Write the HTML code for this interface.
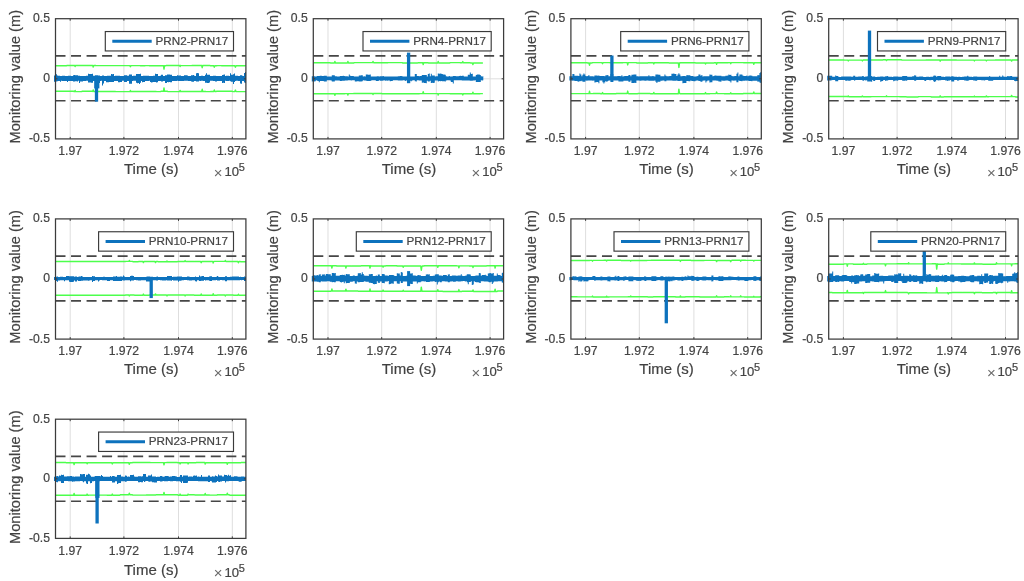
<!DOCTYPE html>
<html><head><meta charset="utf-8"><title>Monitoring value plots</title>
<style>html,body{margin:0;padding:0;background:#fff;overflow:hidden}svg{display:block}text{stroke:#505050;stroke-width:.22px}</style></head>
<body>
<svg width="1024" height="581" viewBox="0 0 1024 581" font-family='"Liberation Sans", sans-serif'>
<rect width="1024" height="581" fill="#fff"/>
<g transform="translate(55.5 18.7)">
<path d="M14.7 0V120.2M68.4 0V120.2M123 0V120.2M176.8 0V120.2M0 60.1H190.4" stroke="#dedede" stroke-width="1" fill="none"/>
<path d="M0 37.2H190.4" stroke="#464646" stroke-width="1.6" stroke-dasharray="10 5.53" fill="none"/>
<path d="M0 82H190.4" stroke="#464646" stroke-width="1.6" stroke-dasharray="10 5.53" fill="none"/>
<path d="M0 47.1L11.1 47.1L11.6 46.7L19.1 46.7L19.6 47.8L20.1 46.7L23.1 46.7L23.6 46.8L37.2 46.8L37.7 48.3L38.2 46.8L40.2 46.8L40.7 46.9L74.4 46.9L74.9 48L75.4 46.9L84.4 46.9L84.9 47L89.4 47L89.9 46.9L93.4 46.9L93.9 47L108 47L108.5 50.4L109 47L110.5 47L111 46.8L119.6 46.8L120.1 46.7L124.1 46.7L124.6 47.8L125.1 46.7L125.6 46.9L136.1 46.9L136.6 46.8L146.2 46.8L146.7 49L147.2 46.8L154.2 46.8L154.7 47L158.2 47L158.8 48.5L159.3 47L161.3 47L161.8 46.9L165.8 46.9L166.3 47.1L173.8 47.1L174.3 47L179.3 47L179.9 48.5L180.4 47L189.4 47L189.9 46.9L190.4 46.9" stroke="#4cff4c" stroke-width="1.45" fill="none" stroke-linejoin="round"/>
<path d="M0 72.5L18.1 72.5L18.6 72.9L19.1 72.9L19.6 71.8L20.1 72.9L26.1 72.9L26.6 72.5L36.7 72.5L37.2 72.8L37.7 71.3L38.2 72.8L59.8 72.8L60.3 72.9L74.4 72.9L74.9 71.8L75.4 72.9L75.9 72.9L76.4 72.7L90.9 72.7L91.4 72.8L100.5 72.8L101 72.9L105 72.9L105.5 72.6L108 72.6L108.5 69.2L109 72.6L112 72.6L112.5 72.9L124.1 72.9L124.6 71.7L125.1 72.9L125.6 72.7L138.2 72.7L138.7 72.8L146.2 72.8L146.7 70.6L147.2 72.8L150.2 72.8L150.7 72.9L154.7 72.9L155.2 72.8L158.2 72.8L158.8 71.3L159.3 72.8L160.8 72.8L161.3 72.5L176.8 72.5L177.3 72.9L179.3 72.9L179.9 71.4L180.4 72.9L190.4 72.9" stroke="#4cff4c" stroke-width="1.45" fill="none" stroke-linejoin="round"/>
<path d="M-1.5 56.8H-0.5V56.8H0.5V55.6H1.5V56.8H2.5V57.1H3.5V57.1H4.5V57.3H5.5V57.3H6.5V57.1H7.5V57.1H8.5V57.1H9.5V57.3H10.5V57.3H11.5V57.3H12.5V57H13.5V57H14.5V57H15.5V57.4H16.5V57.4H17.5V56.5H18.5V56.4H19.5V56.5H20.5V56.5H21.5V56.5H22.5V57.1H23.5V57.1H24.5V57.4H25.5V57.4H26.5V57.4H27.5V57.3H28.5V57.3H29.5V57.3H30.5V57.1H31.5V57.1H32.5V55H33.5V55.3H34.5V55.2H35.5V55.4H36.5V55.1H37.5V57.1H38.5V57H39.5V56.5H40.5V56.5H41.5V56.6H42.5V56.8H43.5V56.8H44.5V57.3H45.5V57.3H46.5V56.8H47.5V56.8H48.5V57.2H49.5V57.2H50.5V57.2H51.5V57.1H52.5V57.1H53.5V57.1H54.5V57.1H55.5V55.3H56.5V55.5H57.5V55.4H58.5V57.3H59.5V57H60.5V57.1H61.5V57H62.5V57H63.5V57H64.5V57.4H65.5V57.4H66.5V57.3H67.5V57.3H68.5V56.5H69.5V56.5H70.5V56.5H71.5V57.1H72.5V57.1H73.5V55.7H74.5V55.7H75.5V55.8H76.5V57.3H77.5V57.1H78.5V57.1H79.5V57.1H80.5V55.4H81.5V55.3H82.5V55.2H83.5V55.3H84.5V55.1H85.5V57.3H86.5V57.3H87.5V57H88.5V57H89.5V57.1H90.5V57.1H91.5V57.1H92.5V57.1H93.5V57.2H94.5V57.2H95.5V57.2H96.5V57.2H97.5V57.1H98.5V57.1H99.5V55.1H100.5V55.4H101.5V55.4H102.5V57.3H103.5V57.3H104.5V57H105.5V56.1H106.5V56.1H107.5V57.2H108.5V57.2H109.5V56.6H110.5V56.6H111.5V55.9H112.5V55.8H113.5V55.9H114.5V56H115.5V56.1H116.5V57.3H117.5V57.4H118.5V57.4H119.5V57.4H120.5V57.2H121.5V56.6H122.5V56.8H123.5V56.8H124.5V56.8H125.5V57.3H126.5V57.3H127.5V57.3H128.5V56.5H129.5V56.5H130.5V56.5H131.5V56.8H132.5V57.3H133.5V57.3H134.5V57.2H135.5V56.5H136.5V56.5H137.5V56.4H138.5V57H139.5V57.3H140.5V54.6H141.5V54.4H142.5V54.5H143.5V57.3H144.5V57.4H145.5V57.1H146.5V57.1H147.5V57.2H148.5V57.2H149.5V56H150.5V54.5H151.5V56H152.5V56.1H153.5V56H154.5V57.3H155.5V57.4H156.5V57.4H157.5V57H158.5V57H159.5V57H160.5V57.3H161.5V57.3H162.5V57.3H163.5V57.2H164.5V57.2H165.5V57.4H166.5V56.2H167.5V56H168.5V55.9H169.5V57.2H170.5V57.1H171.5V57H172.5V57H173.5V57.3H174.5V54.6H175.5V56.1H176.5V56.1H177.5V55.5H178.5V54.9H179.5V57H180.5V57.1H181.5V57.1H182.5V57.3H183.5V57.3H184.5V56.6H185.5V56.6H186.5V57.1H187.5V57.2H188.5V54.2H189.5V53.2H190.5V64.2H189.5V63.7H188.5V62.4H187.5V62.4H186.5V65H185.5V64.9H184.5V62.2H183.5V62.2H182.5V62H181.5V62H180.5V62.2H179.5V63.4H178.5V65.2H177.5V63H176.5V63H175.5V62.6H174.5V62H173.5V62.3H172.5V62.4H171.5V62.3H170.5V62H169.5V64.2H168.5V64H167.5V64.4H166.5V62.4H165.5V62.4H164.5V62.4H163.5V62.2H162.5V62.2H161.5V62.7H160.5V62.9H159.5V62.3H158.5V62.3H157.5V62H156.5V62H155.5V62H154.5V63.9H153.5V64.3H152.5V64.2H151.5V64.1H150.5V64.1H149.5V62.3H148.5V62.3H147.5V62H146.5V62H145.5V62.3H144.5V62.1H143.5V62.8H142.5V62.7H141.5V62.7H140.5V62.2H139.5V62.4H138.5V63H137.5V63H136.5V62.9H135.5V62.4H134.5V62.2H133.5V62.2H132.5V62H131.5V62.1H130.5V62.1H129.5V62.1H128.5V62.2H127.5V62.2H126.5V62.4H125.5V62.4H124.5V62.3H123.5V62.3H122.5V62H121.5V62.3H120.5V62.4H119.5V62.4H118.5V62.4H117.5V62.4H116.5V63.6H115.5V63.6H114.5V63.4H113.5V63.5H112.5V63.4H111.5V64.2H110.5V64.2H109.5V62.2H108.5V62.2H107.5V62.9H106.5V62.9H105.5V62.3H104.5V62.4H103.5V62.4H102.5V63.6H101.5V63.7H100.5V63.4H99.5V63.4H98.5V63.4H97.5V63.6H96.5V63.7H95.5V63.2H94.5V62H93.5V62.2H92.5V62.2H91.5V62.2H90.5V62.2H89.5V63.3H88.5V63.2H87.5V63.5H86.5V62.2H85.5V64.1H84.5V65.4H83.5V64.2H82.5V64.5H81.5V64H80.5V62.1H79.5V62.1H78.5V62.1H77.5V62.4H76.5V65H75.5V65.1H74.5V65H73.5V62.2H72.5V62.2H71.5V63.3H70.5V63.4H69.5V63.2H68.5V62.1H67.5V62.1H66.5V63.4H65.5V63.4H64.5V63.6H63.5V63.5H62.5V62.3H61.5V62.3H60.5V62.3H59.5V62.3H58.5V63.3H57.5V63.3H56.5V63.3H55.5V63.3H54.5V63.4H53.5V63.5H52.5V63.5H51.5V63.5H50.5V62.3H49.5V62.3H48.5V64.8H47.5V66.7H46.5V62H45.5V62.4H44.5V64.3H43.5V64.5H42.5V64.2H41.5V64.4H40.5V64.2H39.5V62.3H38.5V62.2H37.5V64.1H36.5V64H35.5V63.9H34.5V63.9H33.5V63.9H32.5V62.1H31.5V62.1H30.5V62.2H29.5V62.2H28.5V62.2H27.5V62.9H26.5V62.9H25.5V62.9H24.5V64.3H23.5V62.1H22.5V62.7H21.5V62.6H20.5V62.6H19.5V62.9H18.5V62.9H17.5V62.3H16.5V62.3H15.5V62.2H14.5V62.2H13.5V62.2H12.5V63.3H11.5V62.2H10.5V62.2H9.5V62.4H8.5V62.4H7.5V62.4H6.5V62.1H5.5V63.1H4.5V62.3H3.5V62.3H2.5V62.6H1.5V62.9H0.5V62.9H-0.5V63H-1.5Z" fill="#0d72bd"/>
<path d="M41 83V59.7" stroke="#0d72bd" stroke-width="3.3" fill="none"/>
<path d="M41.3 59.7V69.7" stroke="#0d72bd" stroke-width="5.2" fill="none"/>
<path d="M14.7 0v2M14.7 120.2v-2M68.4 0v2M68.4 120.2v-2M123 0v2M123 120.2v-2M176.8 0v2M176.8 120.2v-2M0 60.1h2M190.4 60.1h-2" stroke="#3c3c3c" stroke-width="1" fill="none"/>
<rect x="0" y="0" width="190.4" height="120.2" fill="none" stroke="#3c3c3c" stroke-width="1.25"/>
<rect x="49.8" y="12.85" width="128.2" height="19.4" fill="#fff" stroke="#3a3a3a" stroke-width="1.15"/>
<path d="M56.8 22.6h39.4" stroke="#0d72bd" stroke-width="3.1" fill="none"/>
<text x="100" y="26.2" font-size="11.7" fill="#404040">PRN2-PRN17</text>
<text x="14.7" y="136.3" font-size="12.2" text-anchor="middle" fill="#404040">1.97</text>
<text x="68.4" y="136.3" font-size="12.2" text-anchor="middle" fill="#404040">1.972</text>
<text x="123" y="136.3" font-size="12.2" text-anchor="middle" fill="#404040">1.974</text>
<text x="176.8" y="136.3" font-size="12.2" text-anchor="middle" fill="#404040">1.976</text>
<text x="-5.5" y="3.5" font-size="12.2" text-anchor="end" fill="#404040">0.5</text>
<text x="-5.5" y="63.6" font-size="12.2" text-anchor="end" fill="#404040">0</text>
<text x="-5.5" y="123.7" font-size="12.2" text-anchor="end" fill="#404040">-0.5</text>
<text x="95.7" y="155.6" font-size="15" text-anchor="middle" fill="#404040">Time (s)</text>
<text transform="translate(-35.4 124.8) rotate(-90)" font-size="14.67" fill="#404040">Monitoring value (m)</text>
<text x="158.3" y="159" font-size="15" fill="#6a6a6a" style="stroke:none">×</text>
<text x="168.9" y="157.6" font-size="13.1" fill="#404040">10</text>
<text x="183.2" y="152.5" font-size="11" fill="#404040">5</text>
</g>
<g transform="translate(313.3 18.7)">
<path d="M14.7 0V120.2M68.4 0V120.2M123 0V120.2M176.8 0V120.2M0 60.1H190.3" stroke="#dedede" stroke-width="1" fill="none"/>
<path d="M0 37.2H190.3" stroke="#464646" stroke-width="1.6" stroke-dasharray="10 5.53" fill="none"/>
<path d="M0 82H190.3" stroke="#464646" stroke-width="1.6" stroke-dasharray="10 5.53" fill="none"/>
<path d="M0 44L16.6 44L17.1 44.3L21.1 44.3L21.6 42.8L22.1 44.3L24.6 44.3L25.1 44.2L34.1 44.2L34.6 42.7L35.1 44.2L40.6 44.2L41.1 43.9L59.2 43.9L59.7 42.8L60.2 43.9L60.7 44L67.2 44L67.7 44.1L74.3 44.1L74.8 43.9L88.8 43.9L89.3 44.2L104.4 44.2L104.9 44.1L109.4 44.1L109.9 45.9L110.4 44.1L114.9 44.1L115.4 44.3L122.4 44.3L122.9 44.2L124.4 44.2L124.9 42.7L125.4 44.2L136.5 44.2L137 43.9L146.5 43.9L147 44L149 44L149.5 42.9L150 44L156.6 44L157.1 44.3L159.1 44.3L159.6 45.8L160.1 44.3L169.6 44.3" stroke="#4cff4c" stroke-width="1.45" fill="none" stroke-linejoin="round"/>
<path d="M0 75L11.5 75L12 75.1L21.1 75.1L21.6 76.6L22.1 75.1L31.1 75.1L31.6 74.9L34.1 74.9L34.6 76.4L35.1 74.9L40.1 74.9L40.6 74.7L59.2 74.7L59.7 75.8L60.2 74.7L68.2 74.7L68.7 75.1L87.3 75.1L87.8 75L105.9 75L106.4 74.9L109.4 74.9L109.9 73L110.4 74.9L124.4 74.9L124.9 76.4L125.4 74.9L136.5 74.9L137 75.1L149 75.1L149.5 76.2L150 75.1L155.6 75.1L156.1 75L159.1 75L159.6 73.5L160.1 75L166.6 75L167.1 74.9L169.6 74.9" stroke="#4cff4c" stroke-width="1.45" fill="none" stroke-linejoin="round"/>
<path d="M-1.5 57.6H-0.5V57.6H0.5V57.6H1.5V57.8H2.5V57.8H3.5V57.3H4.5V57.4H5.5V57.4H6.5V57H7.5V57.1H8.5V57.3H9.5V57.3H10.5V57.1H11.5V57.1H12.5V57.1H13.5V57.8H14.5V57.8H15.5V57.7H16.5V57.7H17.5V57.9H18.5V56.6H19.5V56.6H20.5V56.6H21.5V57.6H22.5V57.6H23.5V57.7H24.5V57.7H25.5V57.7H26.5V57.3H27.5V57.3H28.5V57.2H29.5V57.1H30.5V57.2H31.5V57.5H32.5V57.5H33.5V57.5H34.5V57.9H35.5V55.8H36.5V57H37.5V57.4H38.5V57.3H39.5V57.3H40.5V57.7H41.5V57.7H42.5V57.9H43.5V57.9H44.5V57.9H45.5V56.7H46.5V56.7H47.5V56.6H48.5V56.6H49.5V57.7H50.5V57.5H51.5V57.8H52.5V55.9H53.5V55.9H54.5V56.1H55.5V56.1H56.5V55.9H57.5V57.9H58.5V57.7H59.5V57.7H60.5V57.8H61.5V57.8H62.5V57.7H63.5V57.6H64.5V57.6H65.5V57.8H66.5V57.5H67.5V57.5H68.5V57.5H69.5V57.4H70.5V57.8H71.5V57.8H72.5V57.8H73.5V57.9H74.5V57.9H75.5V57.9H76.5V57.9H77.5V57.8H78.5V57.8H79.5V57.9H80.5V57.8H81.5V57.8H82.5V57.8H83.5V57.8H84.5V57.5H85.5V57.5H86.5V57.4H87.5V57.4H88.5V57.5H89.5V57.8H90.5V57.8H91.5V57.7H92.5V57.7H93.5V57.9H94.5V57.8H95.5V57.8H96.5V57.8H97.5V57.8H98.5V57.9H99.5V57.9H100.5V57.9H101.5V55.2H102.5V55.3H103.5V57.3H104.5V57.3H105.5V57.5H106.5V57.4H107.5V57.4H108.5V56.3H109.5V56.2H110.5V56.2H111.5V56.2H112.5V56.2H113.5V57.9H114.5V55.4H115.5V54.7H116.5V57.5H117.5V55.1H118.5V56.8H119.5V56.8H120.5V56.8H121.5V57.9H122.5V57.5H123.5V57.5H124.5V54.9H125.5V55.1H126.5V54.9H127.5V55.1H128.5V55.2H129.5V55.9H130.5V55.8H131.5V56.1H132.5V57.5H133.5V57.7H134.5V57.7H135.5V57.3H136.5V57.8H137.5V57.8H138.5V57.8H139.5V57.3H140.5V57.3H141.5V57.3H142.5V57.6H143.5V57.6H144.5V57.6H145.5V57.2H146.5V57.1H147.5V57.2H148.5V57.1H149.5V57.1H150.5V57.8H151.5V57.7H152.5V57.7H153.5V57.7H154.5V56H155.5V56.1H156.5V53.8H157.5V55.4H158.5V55.1H159.5V57.8H160.5V57.8H161.5V57.8H162.5V56.3H163.5V55.8H164.5V55.8H165.5V55.8H166.5V56.2H167.5V57.5H168.5V57.7H169.5V57.5H170V61.6H169.5V61.7H168.5V61.5H167.5V63.4H166.5V63.3H165.5V63.3H164.5V63.3H163.5V63.2H162.5V61.6H161.5V61.7H160.5V61.7H159.5V62.1H158.5V62.1H157.5V62.1H156.5V61.9H155.5V61.9H154.5V61.9H153.5V61.9H152.5V61.9H151.5V61.8H150.5V61.9H149.5V61.9H148.5V61.6H147.5V61.6H146.5V61.6H145.5V61.6H144.5V61.6H143.5V61.6H142.5V61.6H141.5V61.6H140.5V64.8H139.5V63.4H138.5V63.2H137.5V61.8H136.5V61.6H135.5V61.5H134.5V61.5H133.5V61.9H132.5V62.8H131.5V62.6H130.5V62.6H129.5V62.5H128.5V62.4H127.5V62.5H126.5V62.4H125.5V62.7H124.5V61.7H123.5V61.7H122.5V61.9H121.5V64H120.5V64.3H119.5V64H118.5V64.4H117.5V62H116.5V62.7H115.5V62.7H114.5V62H113.5V64.6H112.5V64.3H111.5V64.4H110.5V63.9H109.5V64.1H108.5V61.9H107.5V61.9H106.5V61.8H105.5V61.6H104.5V61.6H103.5V62.7H102.5V62.6H101.5V61.5H100.5V61.5H99.5V61.9H98.5V62.6H97.5V62H96.5V61.6H95.5V61.6H94.5V61.6H93.5V61.9H92.5V62.4H91.5V61.6H90.5V61.6H89.5V61.8H88.5V61.8H87.5V61.8H86.5V61.7H85.5V61.7H84.5V61.6H83.5V61.6H82.5V61.6H81.5V61.5H80.5V61.5H79.5V62.2H78.5V62.2H77.5V62.6H76.5V61.9H75.5V61.9H74.5V62H73.5V61.9H72.5V62H71.5V61.5H70.5V61.9H69.5V62H68.5V62H67.5V62H66.5V61.6H65.5V62.2H64.5V62.2H63.5V62.2H62.5V61.6H61.5V61.5H60.5V61.5H59.5V61.5H58.5V61.9H57.5V62.3H56.5V62.3H55.5V62.2H54.5V62.3H53.5V62.1H52.5V61.7H51.5V61.9H50.5V61.6H49.5V62.6H48.5V62.8H47.5V62.7H46.5V62.8H45.5V62.6H44.5V62.6H43.5V62.7H42.5V62.7H41.5V61.6H40.5V61.5H39.5V61.5H38.5V61.9H37.5V61.5H36.5V61.5H35.5V61.6H34.5V61.8H33.5V61.8H32.5V61.8H31.5V62H30.5V62H29.5V62H28.5V62.3H27.5V62.2H26.5V61.7H25.5V61.7H24.5V61.7H23.5V61.7H22.5V61.7H21.5V62.8H20.5V62.8H19.5V62.8H18.5V61.8H17.5V61.5H16.5V61.5H15.5V61.6H14.5V61.6H13.5V62.8H12.5V62.7H11.5V62.8H10.5V62.4H9.5V62.4H8.5V62.4H7.5V62.3H6.5V63.6H5.5V62.3H4.5V62H3.5V61.5H2.5V62.6H1.5V62.8H0.5V62.6H-0.5V62.7H-1.5Z" fill="#0d72bd"/>
<path d="M95.3 33.9V64.5" stroke="#0d72bd" stroke-width="3.3" fill="none"/>
<path d="M14.7 0v2M14.7 120.2v-2M68.4 0v2M68.4 120.2v-2M123 0v2M123 120.2v-2M176.8 0v2M176.8 120.2v-2M0 60.1h2M190.3 60.1h-2" stroke="#3c3c3c" stroke-width="1" fill="none"/>
<rect x="0" y="0" width="190.3" height="120.2" fill="none" stroke="#3c3c3c" stroke-width="1.25"/>
<rect x="49.7" y="12.85" width="128.2" height="19.4" fill="#fff" stroke="#3a3a3a" stroke-width="1.15"/>
<path d="M56.7 22.6h39.4" stroke="#0d72bd" stroke-width="3.1" fill="none"/>
<text x="99.9" y="26.2" font-size="11.7" fill="#404040">PRN4-PRN17</text>
<text x="14.7" y="136.3" font-size="12.2" text-anchor="middle" fill="#404040">1.97</text>
<text x="68.4" y="136.3" font-size="12.2" text-anchor="middle" fill="#404040">1.972</text>
<text x="123" y="136.3" font-size="12.2" text-anchor="middle" fill="#404040">1.974</text>
<text x="176.8" y="136.3" font-size="12.2" text-anchor="middle" fill="#404040">1.976</text>
<text x="-5.5" y="3.5" font-size="12.2" text-anchor="end" fill="#404040">0.5</text>
<text x="-5.5" y="63.6" font-size="12.2" text-anchor="end" fill="#404040">0</text>
<text x="-5.5" y="123.7" font-size="12.2" text-anchor="end" fill="#404040">-0.5</text>
<text x="95.7" y="155.6" font-size="15" text-anchor="middle" fill="#404040">Time (s)</text>
<text transform="translate(-35.4 124.8) rotate(-90)" font-size="14.67" fill="#404040">Monitoring value (m)</text>
<text x="158.3" y="159" font-size="15" fill="#6a6a6a" style="stroke:none">×</text>
<text x="168.9" y="157.6" font-size="13.1" fill="#404040">10</text>
<text x="183.2" y="152.5" font-size="11" fill="#404040">5</text>
</g>
<g transform="translate(570.9 18.7)">
<path d="M14.7 0V120.2M68.4 0V120.2M123 0V120.2M176.8 0V120.2M0 60.1H190.4" stroke="#dedede" stroke-width="1" fill="none"/>
<path d="M0 37.2H190.4" stroke="#464646" stroke-width="1.6" stroke-dasharray="10 5.53" fill="none"/>
<path d="M0 82H190.4" stroke="#464646" stroke-width="1.6" stroke-dasharray="10 5.53" fill="none"/>
<path d="M0 44L16.1 44L16.6 44.3L18.1 44.3L18.6 46.5L19.1 44.3L21.1 44.3L21.6 43.9L31.1 43.9L31.6 45L32.2 43.9L38.7 43.9L39.2 44.1L51.7 44.1L52.2 43.9L56.3 43.9L56.8 46.2L57.3 43.9L65.3 43.9L65.8 44.2L76.9 44.2L77.4 44L81.4 44L81.9 44.1L82.4 44.1L82.9 45.2L83.4 44.1L97.5 44.1L98 44.2L107.5 44.2L108 48.7L108.5 44.9L109 44L124.1 44L124.6 44.2L134.1 44.2L134.6 45.3L135.1 44.2L143.2 44.2L143.7 44L145.2 44L145.7 45.5L146.2 44L157.2 44L157.7 43.9L159.3 43.9L159.8 45L160.3 43.9L172.3 43.9L172.8 44L182.4 44L182.9 45.5L183.4 44L190.4 44" stroke="#4cff4c" stroke-width="1.45" fill="none" stroke-linejoin="round"/>
<path d="M0 74.9L18.1 74.9L18.6 72.6L19.1 74.9L22.1 74.9L22.6 74.7L29.1 74.7L29.6 75L31.1 75L31.6 73.9L32.2 75L45.2 75L45.7 74.7L56.3 74.7L56.8 72.4L57.3 74.7L57.8 75L66.8 75L67.3 74.8L78.9 74.8L79.4 75L82.4 75L82.9 73.8L83.4 75L107.5 75L108 70.5L108.5 74.1L109 75L113.5 75L114 75.1L127.6 75.1L128.1 75L134.1 75L134.6 73.9L135.1 75.1L138.7 75.1L139.2 74.9L145.2 74.9L145.7 73.4L146.2 74.9L153.2 74.9L153.7 75.1L159.3 75.1L159.8 74L160.3 75.1L172.3 75.1L172.8 74.7L182.4 74.7L182.9 73.2L183.4 74.7L188.4 74.7L188.9 74.8L190.4 74.8" stroke="#4cff4c" stroke-width="1.45" fill="none" stroke-linejoin="round"/>
<path d="M-1.5 57.5H-0.5V57.5H0.5V57.5H1.5V55.2H2.5V55.3H3.5V57.1H4.5V57.1H5.5V57H6.5V57H7.5V57.2H8.5V54.7H9.5V55.8H10.5V57.6H11.5V56H12.5V54.7H13.5V55.7H14.5V57.3H15.5V57.5H16.5V57.4H17.5V56.3H18.5V57.6H19.5V57.6H20.5V57.6H21.5V57.6H22.5V57.7H23.5V56.9H24.5V56.9H25.5V56.9H26.5V57H27.5V56.9H28.5V57.4H29.5V57.4H30.5V57.4H31.5V57.4H32.5V57.4H33.5V57.5H34.5V56.5H35.5V56.5H36.5V56.4H37.5V57.5H38.5V57.5H39.5V55.3H40.5V55.2H41.5V55.2H42.5V57.5H43.5V57.5H44.5V57.5H45.5V57.6H46.5V57.4H47.5V57.4H48.5V57.4H49.5V57.6H50.5V56.6H51.5V57.7H52.5V57.5H53.5V57.3H54.5V57.3H55.5V57.3H56.5V57.4H57.5V56.4H58.5V56.4H59.5V57.6H60.5V56.1H61.5V56.1H62.5V55.9H63.5V55.9H64.5V55.9H65.5V57.6H66.5V57.6H67.5V57.7H68.5V57.6H69.5V57.6H70.5V57.6H71.5V57.6H72.5V57.6H73.5V57.5H74.5V57.6H75.5V57.6H76.5V57.6H77.5V56.6H78.5V57.5H79.5V57.5H80.5V57.5H81.5V57.4H82.5V57.5H83.5V57.7H84.5V55.8H85.5V55.7H86.5V55.9H87.5V56.1H88.5V56.1H89.5V57.6H90.5V57.6H91.5V57.6H92.5V57.6H93.5V55.7H94.5V57.1H95.5V57.5H96.5V57.5H97.5V57.5H98.5V57.4H99.5V57.3H100.5V55H101.5V55H102.5V54.9H103.5V55.3H104.5V55.3H105.5V57.4H106.5V55.9H107.5V54.5H108.5V55.7H109.5V57.5H110.5V57.5H111.5V57.4H112.5V57.4H113.5V57.4H114.5V57.5H115.5V56.4H116.5V56.5H117.5V56.6H118.5V56.6H119.5V57.3H120.5V57.3H121.5V57.3H122.5V57.7H123.5V57.7H124.5V57.7H125.5V57.6H126.5V57.4H127.5V55.7H128.5V55.7H129.5V57H130.5V56.2H131.5V57.7H132.5V57.5H133.5V57.5H134.5V57.6H135.5V57.6H136.5V57.5H137.5V57.5H138.5V55.7H139.5V56H140.5V56H141.5V57.6H142.5V57.4H143.5V56.9H144.5V56.9H145.5V57H146.5V57H147.5V57H148.5V57.1H149.5V57.1H150.5V57.6H151.5V57.5H152.5V57.5H153.5V57.5H154.5V57.1H155.5V57.1H156.5V56.9H157.5V55.8H158.5V56.2H159.5V56.1H160.5V57.3H161.5V57.6H162.5V57.5H163.5V57.4H164.5V57.4H165.5V55.1H166.5V53.9H167.5V57.5H168.5V55.8H169.5V55.7H170.5V55.8H171.5V56.9H172.5V57.2H173.5V57.2H174.5V57.2H175.5V56.9H176.5V57.6H177.5V57.1H178.5V56.9H179.5V56.9H180.5V57.1H181.5V57.6H182.5V57.6H183.5V57.5H184.5V57.5H185.5V57.5H186.5V56.4H187.5V56.5H188.5V54.2H189.5V53.2H190.5V64.2H189.5V63.7H188.5V62.7H187.5V63H186.5V62H185.5V62H184.5V62H183.5V62H182.5V62H181.5V62.5H180.5V62.4H179.5V62.4H178.5V62.4H177.5V61.9H176.5V62.1H175.5V61.8H174.5V62H173.5V62H172.5V62H171.5V62.5H170.5V62.2H169.5V62.2H168.5V61.8H167.5V63.6H166.5V63.5H165.5V61.9H164.5V61.9H163.5V62H162.5V61.9H161.5V61.8H160.5V63.9H159.5V62.5H158.5V62.3H157.5V61.8H156.5V61.9H155.5V61.9H154.5V62H153.5V62H152.5V62H151.5V61.9H150.5V63H149.5V62.9H148.5V62.9H147.5V62H146.5V62H145.5V61.8H144.5V61.8H143.5V61.8H142.5V61.9H141.5V63.5H140.5V63.5H139.5V63.7H138.5V61.8H137.5V61.8H136.5V62.5H135.5V63.9H134.5V61.9H133.5V61.9H132.5V62H131.5V63H130.5V63H129.5V62.4H128.5V62.2H127.5V61.8H126.5V61.8H125.5V62H124.5V62.5H123.5V62.5H122.5V62.2H121.5V62.2H120.5V61.8H119.5V62.5H118.5V62.5H117.5V62.4H116.5V62.4H115.5V64.2H114.5V64.3H113.5V64.4H112.5V64.5H111.5V62H110.5V62H109.5V62.4H108.5V62.3H107.5V62.4H106.5V61.9H105.5V62H104.5V62H103.5V62H102.5V62H101.5V61.7H100.5V61.7H99.5V61.9H98.5V61.8H97.5V61.8H96.5V61.8H95.5V62.5H94.5V62.5H93.5V61.8H92.5V61.8H91.5V62H90.5V62H89.5V63H88.5V63H87.5V63H86.5V64.2H85.5V63.1H84.5V61.9H83.5V62H82.5V62.1H81.5V62H80.5V62H79.5V62H78.5V62.1H77.5V61.8H76.5V61.8H75.5V62.1H74.5V62H73.5V61.9H72.5V61.9H71.5V61.9H70.5V62H69.5V62H68.5V61.9H67.5V61.9H66.5V61.9H65.5V64.3H64.5V64.1H63.5V64.3H62.5V64.2H61.5V64.2H60.5V61.9H59.5V63H58.5V63H57.5V62H56.5V62H55.5V62H54.5V62H53.5V62H52.5V62.9H51.5V62.9H50.5V62.9H49.5V62.8H48.5V62.8H47.5V61.9H46.5V61.8H45.5V61.8H44.5V61.8H43.5V61.8H42.5V63.4H41.5V63.4H40.5V63.3H39.5V61.9H38.5V61.7H37.5V62.2H36.5V63.2H35.5V62.4H34.5V63.6H33.5V64.9H32.5V63.5H31.5V61.8H30.5V61.7H29.5V61.7H28.5V64.6H27.5V63.3H26.5V63.4H25.5V63.6H24.5V63.8H23.5V61.8H22.5V62H21.5V61.7H20.5V61.7H19.5V61.7H18.5V61.7H17.5V61.7H16.5V62.1H15.5V61.9H14.5V63H13.5V63H12.5V63H11.5V62H10.5V62.5H9.5V62.4H8.5V63H7.5V62.8H6.5V62.2H5.5V62.4H4.5V62.4H3.5V61.9H2.5V62H1.5V61.8H0.5V61.8H-0.5V61.8H-1.5Z" fill="#0d72bd"/>
<path d="M41 36.8V59.7" stroke="#0d72bd" stroke-width="3.3" fill="none"/>
<path d="M14.7 0v2M14.7 120.2v-2M68.4 0v2M68.4 120.2v-2M123 0v2M123 120.2v-2M176.8 0v2M176.8 120.2v-2M0 60.1h2M190.4 60.1h-2" stroke="#3c3c3c" stroke-width="1" fill="none"/>
<rect x="0" y="0" width="190.4" height="120.2" fill="none" stroke="#3c3c3c" stroke-width="1.25"/>
<rect x="49.8" y="12.85" width="128.2" height="19.4" fill="#fff" stroke="#3a3a3a" stroke-width="1.15"/>
<path d="M56.8 22.6h39.4" stroke="#0d72bd" stroke-width="3.1" fill="none"/>
<text x="100" y="26.2" font-size="11.7" fill="#404040">PRN6-PRN17</text>
<text x="14.7" y="136.3" font-size="12.2" text-anchor="middle" fill="#404040">1.97</text>
<text x="68.4" y="136.3" font-size="12.2" text-anchor="middle" fill="#404040">1.972</text>
<text x="123" y="136.3" font-size="12.2" text-anchor="middle" fill="#404040">1.974</text>
<text x="176.8" y="136.3" font-size="12.2" text-anchor="middle" fill="#404040">1.976</text>
<text x="-5.5" y="3.5" font-size="12.2" text-anchor="end" fill="#404040">0.5</text>
<text x="-5.5" y="63.6" font-size="12.2" text-anchor="end" fill="#404040">0</text>
<text x="-5.5" y="123.7" font-size="12.2" text-anchor="end" fill="#404040">-0.5</text>
<text x="95.7" y="155.6" font-size="15" text-anchor="middle" fill="#404040">Time (s)</text>
<text transform="translate(-35.4 124.8) rotate(-90)" font-size="14.67" fill="#404040">Monitoring value (m)</text>
<text x="158.3" y="159" font-size="15" fill="#6a6a6a" style="stroke:none">×</text>
<text x="168.9" y="157.6" font-size="13.1" fill="#404040">10</text>
<text x="183.2" y="152.5" font-size="11" fill="#404040">5</text>
</g>
<g transform="translate(828.7 18.7)">
<path d="M14.7 0V120.2M68.4 0V120.2M123 0V120.2M176.8 0V120.2M0 60.1H189.4" stroke="#dedede" stroke-width="1" fill="none"/>
<path d="M0 37.2H189.4" stroke="#464646" stroke-width="1.6" stroke-dasharray="10 5.53" fill="none"/>
<path d="M0 82H189.4" stroke="#464646" stroke-width="1.6" stroke-dasharray="10 5.53" fill="none"/>
<path d="M0 41.2L15.1 41.2L15.6 41.4L19.1 41.4L19.6 42.2L20.1 41.4L33.2 41.4L33.7 42.2L34.2 41.4L34.7 41.3L53.8 41.3L54.3 41.1L57.3 41.1L57.8 41.9L58.3 41.1L58.8 41.1L59.3 41L72.8 41L73.3 41.4L97 41.4L97.5 41.2L109.5 41.2L110 41.3L111 41.3L111.5 42.5L112 41.3L127.6 41.3L128.1 41.4L145.2 41.4L145.7 42.2L146.2 41.4L157.2 41.4L157.7 42.2L158.3 41.4L166.3 41.4L166.8 41.3L182.4 41.3L182.9 42.4L183.4 41.3L189.4 41.3" stroke="#4cff4c" stroke-width="1.45" fill="none" stroke-linejoin="round"/>
<path d="M0 77.8L18.6 77.8L19.1 78L19.6 77.2L20.1 78L33.2 78L33.7 77.3L34.2 78L42.2 78L42.7 77.9L57.3 77.9L57.8 77.1L58.3 77.9L70.8 77.9L71.3 78.1L77.4 78.1L77.9 78.2L89.4 78.2L89.9 77.9L102 77.9L102.5 78.2L111 78.2L111.5 77.1L112 78.2L115 78.2L115.5 78.1L119.1 78.1L119.6 78L130.6 78L131.1 78.1L145.2 78.1L145.7 77.4L146.2 78.1L147.2 78.1L147.7 78L157.2 78L157.7 77.2L158.3 78L159.8 78L160.3 77.9L182.4 77.9L182.9 76.7L183.4 77.9L186.4 77.9L186.9 78.2L189.4 78.2" stroke="#4cff4c" stroke-width="1.45" fill="none" stroke-linejoin="round"/>
<path d="M-1.5 57H-0.5V57.1H0.5V57.1H1.5V57.1H2.5V57H3.5V58.1H4.5V58.1H5.5V58.1H6.5V56.7H7.5V57.4H8.5V57.3H9.5V58.1H10.5V58.2H11.5V58.2H12.5V57.7H13.5V57.7H14.5V57.7H15.5V57.9H16.5V57.9H17.5V57.9H18.5V57.8H19.5V57.9H20.5V57.9H21.5V57.7H22.5V58H23.5V58H24.5V57.1H25.5V57.1H26.5V58.1H27.5V58.1H28.5V58.1H29.5V57.9H30.5V57.8H31.5V57.8H32.5V57.8H33.5V57.4H34.5V57.5H35.5V58.2H36.5V57.9H37.5V57.7H38.5V57.5H39.5V57.5H40.5V57.4H41.5V57.5H42.5V57.4H43.5V58H44.5V57.7H45.5V57.9H46.5V58.2H47.5V58.2H48.5V58H49.5V58H50.5V58H51.5V57.8H52.5V57.8H53.5V57.7H54.5V58.1H55.5V58.1H56.5V57.5H57.5V57.5H58.5V57.3H59.5V58H60.5V58H61.5V58H62.5V58H63.5V58.2H64.5V57.9H65.5V57.7H66.5V57.7H67.5V57.7H68.5V57.7H69.5V58H70.5V58H71.5V58H72.5V58H73.5V57.3H74.5V57.3H75.5V57.3H76.5V57.4H77.5V57.3H78.5V58H79.5V58H80.5V58H81.5V58H82.5V58H83.5V57.5H84.5V57.5H85.5V56.5H86.5V56.9H87.5V58H88.5V58H89.5V58H90.5V57.9H91.5V57.9H92.5V57.9H93.5V57.8H94.5V58.2H95.5V58.2H96.5V58.2H97.5V58H98.5V58.1H99.5V58H100.5V58.2H101.5V58H102.5V58H103.5V58H104.5V57.1H105.5V56.9H106.5V57H107.5V58H108.5V57.3H109.5V57.3H110.5V57.3H111.5V57.3H112.5V58H113.5V58H114.5V58.1H115.5V58.2H116.5V57.8H117.5V57.9H118.5V57.8H119.5V57.8H120.5V57.8H121.5V58.1H122.5V57.6H123.5V57.6H124.5V57.7H125.5V58.1H126.5V58H127.5V58.1H128.5V58.2H129.5V58H130.5V58H131.5V58.2H132.5V58.2H133.5V58.1H134.5V58.1H135.5V57.7H136.5V57.8H137.5V57.8H138.5V57.1H139.5V57.9H140.5V58.1H141.5V58.1H142.5V58.1H143.5V58.2H144.5V57.9H145.5V57.9H146.5V57.9H147.5V57.8H148.5V58.1H149.5V58H150.5V58H151.5V58H152.5V58.1H153.5V58.1H154.5V58.1H155.5V58H156.5V58H157.5V58.1H158.5V58.1H159.5V58.1H160.5V57.4H161.5V58.1H162.5V58.1H163.5V58H164.5V58H165.5V58H166.5V58H167.5V58.1H168.5V58H169.5V58H170.5V57H171.5V58H172.5V58H173.5V56.7H174.5V57.7H175.5V58H176.5V58H177.5V58H178.5V57.3H179.5V57.5H180.5V57.6H181.5V57.3H182.5V57.3H183.5V58.1H184.5V58H185.5V58H186.5V58H187.5V58H188.5V58H189.5V62.3H188.5V62.3H187.5V62.5H186.5V62.4H185.5V61.3H184.5V61.2H183.5V61.3H182.5V61.3H181.5V61.3H180.5V61.3H179.5V61.4H178.5V61.4H177.5V61.4H176.5V61.3H175.5V61.3H174.5V61.3H173.5V61.3H172.5V61.4H171.5V61.4H170.5V61.4H169.5V61.3H168.5V61.2H167.5V61.3H166.5V61.3H165.5V61.3H164.5V62.1H163.5V62.1H162.5V62.1H161.5V62.1H160.5V62.1H159.5V61.4H158.5V61.4H157.5V61.4H156.5V61.7H155.5V61.6H154.5V61.6H153.5V61.6H152.5V61.4H151.5V61.4H150.5V61.4H149.5V61.3H148.5V62H147.5V62H146.5V61.9H145.5V61.9H144.5V61.2H143.5V61.4H142.5V61.4H141.5V61.4H140.5V61.9H139.5V62H138.5V62H137.5V61.9H136.5V61.9H135.5V61.4H134.5V61.4H133.5V61.3H132.5V61.4H131.5V61.3H130.5V61.9H129.5V62.1H128.5V61.4H127.5V61.3H126.5V61.4H125.5V62.8H124.5V62.9H123.5V62.9H122.5V61.4H121.5V61.7H120.5V61.7H119.5V62.2H118.5V61.7H117.5V61.7H116.5V61.4H115.5V61.3H114.5V61.3H113.5V61.3H112.5V61.6H111.5V61.6H110.5V61.7H109.5V61.6H108.5V61.4H107.5V62.5H106.5V63.2H105.5V62.5H104.5V61.2H103.5V61.2H102.5V61.6H101.5V61.6H100.5V61.4H99.5V61.2H98.5V61.3H97.5V62.2H96.5V62.1H95.5V61.4H94.5V61.4H93.5V61.4H92.5V61.4H91.5V61.4H90.5V61.4H89.5V61.4H88.5V61.4H87.5V62H86.5V62H85.5V61.3H84.5V61.3H83.5V61.4H82.5V61.4H81.5V61.4H80.5V61.4H79.5V61.4H78.5V62H77.5V61.9H76.5V62.1H75.5V62H74.5V62H73.5V61.3H72.5V61.3H71.5V61.4H70.5V61.4H69.5V62.1H68.5V61.9H67.5V61.9H66.5V62H65.5V62.6H64.5V61.4H63.5V61.4H62.5V61.4H61.5V61.4H60.5V61.4H59.5V61.7H58.5V61.7H57.5V62.4H56.5V61.4H55.5V61.4H54.5V62.4H53.5V62.5H52.5V63H51.5V61.3H50.5V61.3H49.5V61.3H48.5V61.3H47.5V61.3H46.5V62.4H45.5V62.4H44.5V61.4H43.5V63H42.5V62.8H41.5V62.7H40.5V62.9H39.5V62.9H38.5V61.6H37.5V61.7H36.5V61.4H35.5V62H34.5V61.9H33.5V61.3H32.5V61.3H31.5V61.3H30.5V61.2H29.5V61.4H28.5V61.4H27.5V61.4H26.5V62.1H25.5V61.3H24.5V61.3H23.5V61.2H22.5V61.9H21.5V62.1H20.5V62H19.5V61.9H18.5V62.1H17.5V62.1H16.5V61.4H15.5V61.3H14.5V61.3H13.5V61.3H12.5V61.3H11.5V61.3H10.5V61.4H9.5V62.5H8.5V62.6H7.5V62.6H6.5V61.3H5.5V61.3H4.5V61.3H3.5V61.6H2.5V61.7H1.5V61.7H0.5V61.7H-0.5V61.7H-1.5Z" fill="#0d72bd"/>
<path d="M40.8 11.9V59.7" stroke="#0d72bd" stroke-width="3.3" fill="none"/>
<path d="M14.7 0v2M14.7 120.2v-2M68.4 0v2M68.4 120.2v-2M123 0v2M123 120.2v-2M176.8 0v2M176.8 120.2v-2M0 60.1h2M189.4 60.1h-2" stroke="#3c3c3c" stroke-width="1" fill="none"/>
<rect x="0" y="0" width="189.4" height="120.2" fill="none" stroke="#3c3c3c" stroke-width="1.25"/>
<rect x="48.8" y="12.85" width="128.2" height="19.4" fill="#fff" stroke="#3a3a3a" stroke-width="1.15"/>
<path d="M55.8 22.6h39.4" stroke="#0d72bd" stroke-width="3.1" fill="none"/>
<text x="99" y="26.2" font-size="11.7" fill="#404040">PRN9-PRN17</text>
<text x="14.7" y="136.3" font-size="12.2" text-anchor="middle" fill="#404040">1.97</text>
<text x="68.4" y="136.3" font-size="12.2" text-anchor="middle" fill="#404040">1.972</text>
<text x="123" y="136.3" font-size="12.2" text-anchor="middle" fill="#404040">1.974</text>
<text x="176.8" y="136.3" font-size="12.2" text-anchor="middle" fill="#404040">1.976</text>
<text x="-5.5" y="3.5" font-size="12.2" text-anchor="end" fill="#404040">0.5</text>
<text x="-5.5" y="63.6" font-size="12.2" text-anchor="end" fill="#404040">0</text>
<text x="-5.5" y="123.7" font-size="12.2" text-anchor="end" fill="#404040">-0.5</text>
<text x="95.2" y="155.6" font-size="15" text-anchor="middle" fill="#404040">Time (s)</text>
<text transform="translate(-35.4 124.8) rotate(-90)" font-size="14.67" fill="#404040">Monitoring value (m)</text>
<text x="158.3" y="159" font-size="15" fill="#6a6a6a" style="stroke:none">×</text>
<text x="168.9" y="157.6" font-size="13.1" fill="#404040">10</text>
<text x="183.2" y="152.5" font-size="11" fill="#404040">5</text>
</g>
<g transform="translate(55.5 218.9)">
<path d="M14.7 0V120.2M68.4 0V120.2M123 0V120.2M176.8 0V120.2M0 60.1H190.4" stroke="#dedede" stroke-width="1" fill="none"/>
<path d="M0 37.2H190.4" stroke="#464646" stroke-width="1.6" stroke-dasharray="10 5.53" fill="none"/>
<path d="M0 82H190.4" stroke="#464646" stroke-width="1.6" stroke-dasharray="10 5.53" fill="none"/>
<path d="M0 42.7L69.8 42.7L70.3 42.5L73.3 42.5L73.8 41.6L74.4 42.5L76.9 42.5L77.4 42.8L82.9 42.8L83.4 42.6L87.4 42.6L87.9 43.7L88.4 42.6L99.5 42.6L100 43.7L100.5 42.6L102.5 42.6L103 42.9L111 42.9L111.5 42.1L112 42.9L121.6 42.9L122.1 42.6L129.1 42.6L129.6 41.7L130.1 42.6L138.2 42.6L138.7 42.7L145.2 42.7L145.7 43.8L146.2 42.7L155.7 42.7L156.2 42.5L157.2 42.5L157.7 44L158.2 42.5L169.3 42.5L169.8 41.6L170.3 42.5L170.8 42.7L182.4 42.7L182.9 43.9L183.4 42.7L184.9 42.7L185.4 42.9L190.4 42.9" stroke="#4cff4c" stroke-width="1.45" fill="none" stroke-linejoin="round"/>
<path d="M0 76.3L69.8 76.3L70.3 76.1L73.3 76.1L73.8 77L74.4 76.1L78.4 76.1L78.9 76.3L87.4 76.3L87.9 75.2L88.4 76.3L93.4 76.3L93.9 76.2L99.5 76.2L100 75L100.5 76.2L111 76.2L111.5 77L112 76.2L121.6 76.2L122.1 76.1L129.1 76.1L129.6 77L130.1 76.1L138.2 76.1L138.7 76.3L145.2 76.3L145.7 75.1L146.2 76.3L146.7 76.4L157.2 76.4L157.7 74.9L158.2 76.4L161.3 76.4L161.8 76.2L169.3 76.2L169.8 77.1L170.3 76.2L177.8 76.2L178.3 76.4L182.4 76.4L182.9 75.3L183.4 76.4L185.4 76.4L185.9 76.3L190.4 76.3" stroke="#4cff4c" stroke-width="1.45" fill="none" stroke-linejoin="round"/>
<path d="M-1.5 58.1H-0.5V58.1H0.5V57.9H1.5V57.7H2.5V58.1H3.5V58.1H4.5V57.9H5.5V57.9H6.5V57.9H7.5V58.1H8.5V58.1H9.5V58H10.5V57H11.5V57H12.5V57H13.5V57.3H14.5V57.3H15.5V57.4H16.5V57.4H17.5V57.4H18.5V57.9H19.5V57.7H20.5V57.7H21.5V58H22.5V57.8H23.5V57.6H24.5V57.6H25.5V57.1H26.5V57.7H27.5V58H28.5V58H29.5V58H30.5V58H31.5V58H32.5V58.1H33.5V58.2H34.5V58.2H35.5V58.2H36.5V57.2H37.5V57.3H38.5V57.4H39.5V58.1H40.5V58.1H41.5V58.1H42.5V58.2H43.5V58.1H44.5V58.1H45.5V58.1H46.5V58.2H47.5V57.9H48.5V57.9H49.5V58.1H50.5V58.1H51.5V58H52.5V58H53.5V58H54.5V58H55.5V58H56.5V58H57.5V57.7H58.5V57.7H59.5V57.7H60.5V57.1H61.5V57.9H62.5V57.8H63.5V57.8H64.5V57.6H65.5V57.7H66.5V57.8H67.5V56.6H68.5V57.7H69.5V58H70.5V58H71.5V58H72.5V58.1H73.5V58.1H74.5V57H75.5V56.9H76.5V56.9H77.5V57H78.5V58.2H79.5V58.2H80.5V58.1H81.5V58.1H82.5V58.2H83.5V58.1H84.5V58.1H85.5V58.1H86.5V58.1H87.5V58.1H88.5V58.1H89.5V58.1H90.5V57.8H91.5V57.7H92.5V57.7H93.5V57.7H94.5V57.8H95.5V57.9H96.5V57.9H97.5V58.1H98.5V58.1H99.5V58.1H100.5V57.9H101.5V57.6H102.5V58.1H103.5V58.1H104.5V58.1H105.5V58.1H106.5V58.1H107.5V58.1H108.5V58.1H109.5V58.1H110.5V58.1H111.5V57.1H112.5V57H113.5V57H114.5V57H115.5V57H116.5V58.1H117.5V57.9H118.5V57.9H119.5V57.9H120.5V57.8H121.5V57.6H122.5V57.7H123.5V57.7H124.5V57.7H125.5V57.6H126.5V58H127.5V58H128.5V58.1H129.5V58.1H130.5V58.1H131.5V57.6H132.5V57.7H133.5V57.8H134.5V58.1H135.5V58.1H136.5V58.1H137.5V58.1H138.5V58.1H139.5V57.5H140.5V58.2H141.5V58.2H142.5V58.2H143.5V56.6H144.5V57.5H145.5V57.3H146.5V57.2H147.5V57.2H148.5V58H149.5V58.1H150.5V58.1H151.5V58.1H152.5V58.1H153.5V57.5H154.5V57.3H155.5V57.3H156.5V58H157.5V58.1H158.5V58.1H159.5V58.1H160.5V57.9H161.5V57H162.5V57.9H163.5V58.1H164.5V58.1H165.5V58.1H166.5V58H167.5V58H168.5V58H169.5V57.4H170.5V57.4H171.5V58.1H172.5V58H173.5V58H174.5V57.8H175.5V57.8H176.5V57.6H177.5V57.6H178.5V57.7H179.5V57.7H180.5V57.7H181.5V57.7H182.5V57.6H183.5V58H184.5V57.9H185.5V58.1H186.5V58H187.5V58H188.5V57.6H189.5V57.8H190.5V62H189.5V62H188.5V61.2H187.5V61.2H186.5V61.3H185.5V61.2H184.5V61.3H183.5V61.3H182.5V61.3H181.5V61.4H180.5V61.4H179.5V61.4H178.5V61.3H177.5V61.3H176.5V61.3H175.5V61.3H174.5V61.3H173.5V61.3H172.5V61.4H171.5V62.4H170.5V62.4H169.5V61.4H168.5V61.4H167.5V61.4H166.5V61.2H165.5V61.2H164.5V61.6H163.5V61.5H162.5V61.5H161.5V61.2H160.5V61.3H159.5V61.3H158.5V61.3H157.5V61.3H156.5V62H155.5V62H154.5V61.9H153.5V61.4H152.5V61.4H151.5V61.4H150.5V61.5H149.5V61.2H148.5V61.9H147.5V61.9H146.5V61.9H145.5V62.1H144.5V62.1H143.5V61.3H142.5V61.3H141.5V62.5H140.5V62.4H139.5V61.3H138.5V61.4H137.5V61.4H136.5V61.5H135.5V61.5H134.5V61.5H133.5V61.4H132.5V61.4H131.5V61.2H130.5V61.2H129.5V61.2H128.5V61.3H127.5V61.3H126.5V61.6H125.5V61.8H124.5V61.8H123.5V62.9H122.5V61.6H121.5V61.7H120.5V61.6H119.5V61.6H118.5V61.6H117.5V61.2H116.5V61.8H115.5V61.6H114.5V61.6H113.5V61.6H112.5V61.7H111.5V61.3H110.5V61.7H109.5V61.7H108.5V61.7H107.5V61.7H106.5V61.4H105.5V61.4H104.5V61.2H103.5V61.2H102.5V61.6H101.5V61.6H100.5V61.3H99.5V61.3H98.5V61.3H97.5V61.3H96.5V61.3H95.5V62.6H94.5V62.6H93.5V62.5H92.5V62.5H91.5V62.5H90.5V61.4H89.5V61.4H88.5V61.4H87.5V61.4H86.5V61.4H85.5V61.7H84.5V61.7H83.5V61.7H82.5V61.3H81.5V61.3H80.5V61.2H79.5V61.2H78.5V61.6H77.5V61.6H76.5V61.6H75.5V62.3H74.5V61.4H73.5V61.4H72.5V61.3H71.5V61.3H70.5V61.3H69.5V61.5H68.5V61.5H67.5V61.4H66.5V62.1H65.5V62H64.5V62.1H63.5V62H62.5V62H61.5V62H60.5V62.1H59.5V62.1H58.5V62.1H57.5V61.3H56.5V61.3H55.5V61.3H54.5V62.1H53.5V62H52.5V62H51.5V61.3H50.5V61.3H49.5V61.4H48.5V61.4H47.5V61.3H46.5V61.2H45.5V61.2H44.5V61.5H43.5V62.6H42.5V61.3H41.5V61.3H40.5V61.3H39.5V62H38.5V62.2H37.5V63.2H36.5V61.3H35.5V61.3H34.5V61.6H33.5V61.8H32.5V61.6H31.5V61.6H30.5V61.5H29.5V61.5H28.5V61.5H27.5V61.9H26.5V61.9H25.5V62H24.5V62H23.5V62H22.5V61.4H21.5V62.7H20.5V62.5H19.5V61.5H18.5V62.9H17.5V63H16.5V63.1H15.5V63.1H14.5V62.9H13.5V61.4H12.5V61.4H11.5V61.4H10.5V61.3H9.5V62.4H8.5V61.4H7.5V61.4H6.5V61.4H5.5V61.4H4.5V61.5H3.5V61.5H2.5V62.8H1.5V62.2H0.5V61.2H-0.5V61.2H-1.5Z" fill="#0d72bd"/>
<path d="M95.7 79.2V59.7" stroke="#0d72bd" stroke-width="3.3" fill="none"/>
<path d="M14.7 0v2M14.7 120.2v-2M68.4 0v2M68.4 120.2v-2M123 0v2M123 120.2v-2M176.8 0v2M176.8 120.2v-2M0 60.1h2M190.4 60.1h-2" stroke="#3c3c3c" stroke-width="1" fill="none"/>
<rect x="0" y="0" width="190.4" height="120.2" fill="none" stroke="#3c3c3c" stroke-width="1.25"/>
<rect x="43.1" y="12.85" width="134.9" height="19.4" fill="#fff" stroke="#3a3a3a" stroke-width="1.15"/>
<path d="M50.1 22.6h39.4" stroke="#0d72bd" stroke-width="3.1" fill="none"/>
<text x="93.3" y="26.2" font-size="11.7" fill="#404040">PRN10-PRN17</text>
<text x="14.7" y="136.3" font-size="12.2" text-anchor="middle" fill="#404040">1.97</text>
<text x="68.4" y="136.3" font-size="12.2" text-anchor="middle" fill="#404040">1.972</text>
<text x="123" y="136.3" font-size="12.2" text-anchor="middle" fill="#404040">1.974</text>
<text x="176.8" y="136.3" font-size="12.2" text-anchor="middle" fill="#404040">1.976</text>
<text x="-5.5" y="3.5" font-size="12.2" text-anchor="end" fill="#404040">0.5</text>
<text x="-5.5" y="63.6" font-size="12.2" text-anchor="end" fill="#404040">0</text>
<text x="-5.5" y="123.7" font-size="12.2" text-anchor="end" fill="#404040">-0.5</text>
<text x="95.7" y="155.6" font-size="15" text-anchor="middle" fill="#404040">Time (s)</text>
<text transform="translate(-35.4 124.8) rotate(-90)" font-size="14.67" fill="#404040">Monitoring value (m)</text>
<text x="158.3" y="159" font-size="15" fill="#6a6a6a" style="stroke:none">×</text>
<text x="168.9" y="157.6" font-size="13.1" fill="#404040">10</text>
<text x="183.2" y="152.5" font-size="11" fill="#404040">5</text>
</g>
<g transform="translate(313.3 218.9)">
<path d="M14.7 0V120.2M68.4 0V120.2M123 0V120.2M176.8 0V120.2M0 60.1H190.3" stroke="#dedede" stroke-width="1" fill="none"/>
<path d="M0 37.2H190.3" stroke="#464646" stroke-width="1.6" stroke-dasharray="10 5.53" fill="none"/>
<path d="M0 82H190.3" stroke="#464646" stroke-width="1.6" stroke-dasharray="10 5.53" fill="none"/>
<path d="M0 46.9L18.1 46.9L18.6 49.2L19.1 46.9L23.1 46.9L23.6 47.2L32.1 47.2L32.6 49.1L33.1 47.2L37.7 47.2L38.2 47.1L47.2 47.1L47.7 46.9L56.2 46.9L56.7 49.2L57.2 46.9L57.7 46.9L58.2 47.1L69.3 47.1L69.8 48.2L70.3 47.1L72.3 47.1L72.8 46.8L83.4 46.8L83.9 47.2L89.4 47.2L89.9 48.4L90.4 47.2L107.5 47.2L108 51.3L108.5 48L109 47.2L110.5 47.2L111 46.8L124 46.8L124.5 48.3L125 46.8L126.5 46.8L127 46.9L143.1 46.9L143.6 47L145.1 47L145.6 48.8L146.1 47L155.7 47L156.2 47.1L159.2 47.1L159.7 48.6L160.2 47.1L173.2 47.1L173.7 46.8L181.3 46.8L181.8 49.1L182.3 46.8L189.3 46.8L189.8 47L190.3 47" stroke="#4cff4c" stroke-width="1.45" fill="none" stroke-linejoin="round"/>
<path d="M0 72.4L17.1 72.4L17.6 72.2L18.1 72.2L18.6 70L19.1 72.2L32.1 72.2L32.6 70.3L33.1 72.2L44.7 72.2L45.2 72.4L56.2 72.4L56.7 70.1L57.2 72.4L62.3 72.4L62.8 72.3L67.8 72.3L68.3 72.4L69.3 72.4L69.8 71.2L70.3 72.4L89.4 72.4L89.9 71.3L90.4 72.4L107.5 72.4L108 68.3L108.5 71.6L109 72.4L116 72.4L116.5 72.3L124 72.3L124.5 70.8L125 72.3L129 72.3L129.5 72.6L145.1 72.6L145.6 70.7L146.1 72.6L148.6 72.6L149.1 72.3L159.2 72.3L159.7 71.1L160.2 72.6L181.3 72.6L181.8 70.3L182.3 72.6L183.8 72.6L184.3 72.2L190.3 72.2" stroke="#4cff4c" stroke-width="1.45" fill="none" stroke-linejoin="round"/>
<path d="M-1.5 57.1H-0.5V56.3H0.5V56.4H1.5V56.5H2.5V56.5H3.5V56H4.5V56.7H5.5V55.6H6.5V55.4H7.5V57.1H8.5V55.5H9.5V55.5H10.5V55.4H11.5V56.7H12.5V55.2H13.5V55.2H14.5V55.4H15.5V55.4H16.5V55.3H17.5V56.9H18.5V54.2H19.5V54.1H20.5V54.3H21.5V54.1H22.5V56.9H23.5V56.9H24.5V56.9H25.5V56.9H26.5V56.2H27.5V56H28.5V55.9H29.5V56H30.5V55.9H31.5V56.7H32.5V55.1H33.5V55.4H34.5V55.3H35.5V55.3H36.5V57.1H37.5V57.1H38.5V57.1H39.5V56.6H40.5V56.6H41.5V57.1H42.5V57.1H43.5V56.8H44.5V54.4H45.5V54.4H46.5V54H47.5V55.7H48.5V53.4H49.5V55.2H50.5V56.7H51.5V56.8H52.5V56.9H53.5V56.9H54.5V57.1H55.5V55.4H56.5V55.3H57.5V55H58.5V55.1H59.5V57H60.5V57H61.5V57H62.5V56.7H63.5V57.2H64.5V55.6H65.5V55.6H66.5V57.2H67.5V57.2H68.5V55.1H69.5V55.2H70.5V55.4H71.5V56.7H72.5V56.7H73.5V56.7H74.5V57H75.5V56H76.5V56H77.5V56H78.5V56H79.5V56.1H80.5V56.8H81.5V57.2H82.5V57.2H83.5V54.4H84.5V54.6H85.5V54.5H86.5V56.7H87.5V53H88.5V53.5H89.5V57H90.5V57H91.5V57H92.5V56.8H93.5V56.8H94.5V56.1H95.5V56H96.5V54.5H97.5V54.7H98.5V54.4H99.5V56.7H100.5V56.7H101.5V56.7H102.5V57.2H103.5V56.5H104.5V56.2H105.5V56.4H106.5V56.3H107.5V57.1H108.5V57H109.5V57H110.5V57.1H111.5V57.1H112.5V55.5H113.5V55.3H114.5V55.5H115.5V55.4H116.5V57.1H117.5V57.1H118.5V57.1H119.5V56.9H120.5V56.9H121.5V55.5H122.5V55.4H123.5V55.4H124.5V55.4H125.5V56.6H126.5V56.6H127.5V56.6H128.5V57H129.5V56.2H130.5V56.2H131.5V56.2H132.5V56.1H133.5V57.1H134.5V55.6H135.5V55.4H136.5V57H137.5V57H138.5V56.7H139.5V56.6H140.5V56.6H141.5V56.6H142.5V56.9H143.5V56.9H144.5V56.7H145.5V56.7H146.5V56.7H147.5V55.3H148.5V56.8H149.5V57.1H150.5V57.1H151.5V56.9H152.5V56.6H153.5V55.3H154.5V55.4H155.5V55.4H156.5V55.6H157.5V57.1H158.5V57H159.5V57H160.5V57H161.5V56.9H162.5V56.6H163.5V56.6H164.5V56.6H165.5V54.2H166.5V54.3H167.5V56.9H168.5V56H169.5V56H170.5V56H171.5V55.9H172.5V56.7H173.5V57.1H174.5V54.5H175.5V54.3H176.5V54.1H177.5V54.7H178.5V54.5H179.5V54.2H180.5V56.8H181.5V56.8H182.5V56.8H183.5V54.6H184.5V56.2H185.5V56.2H186.5V56.3H187.5V57.1H188.5V54.2H189.5V53.2H190.5V64.2H189.5V63.7H188.5V62.4H187.5V62.3H186.5V62.3H185.5V62.3H184.5V62.6H183.5V62.6H182.5V62.7H181.5V62.7H180.5V63.5H179.5V65.1H178.5V62.9H177.5V63.3H176.5V63.3H175.5V62.9H174.5V62.6H173.5V62.7H172.5V62.7H171.5V62.7H170.5V62.3H169.5V62.3H168.5V62.4H167.5V64H166.5V63.9H165.5V63.4H164.5V63.4H163.5V63.4H162.5V63.1H161.5V62.4H160.5V65.7H159.5V66H158.5V62.3H157.5V63H156.5V63.1H155.5V65.3H154.5V63.4H153.5V62.4H152.5V62.7H151.5V62.2H150.5V62.2H149.5V62.3H148.5V62.3H147.5V62.5H146.5V62.5H145.5V62.5H144.5V62.3H143.5V62.3H142.5V62.8H141.5V62.8H140.5V62.8H139.5V62.4H138.5V62.5H137.5V62.5H136.5V63.4H135.5V63.3H134.5V62.6H133.5V62.7H132.5V62.7H131.5V62.3H130.5V62.3H129.5V62.3H128.5V63.3H127.5V63.3H126.5V62.6H125.5V63.3H124.5V65.5H123.5V62.9H122.5V63H121.5V62.3H120.5V62.3H119.5V62.5H118.5V62.5H117.5V62.5H116.5V63.1H115.5V63.1H114.5V63.1H113.5V63H112.5V62.3H111.5V62.6H110.5V62.3H109.5V62.3H108.5V62.7H107.5V63.4H106.5V63.4H105.5V63.3H104.5V64.6H103.5V62.5H102.5V62.7H101.5V62.7H100.5V62.7H99.5V65.1H98.5V65.2H97.5V64.9H96.5V64.2H95.5V64.1H94.5V62.5H93.5V62.5H92.5V62.7H91.5V62.7H90.5V62.7H89.5V64.1H88.5V64H87.5V62.4H86.5V64.8H85.5V64.9H84.5V64.7H83.5V62.4H82.5V62.4H81.5V62.3H80.5V64.8H79.5V64.7H78.5V64.7H77.5V65.1H76.5V65.4H75.5V62.2H74.5V62.7H73.5V62.7H72.5V62.7H71.5V64.3H70.5V64H69.5V64H68.5V62.5H67.5V62.5H66.5V64H65.5V63.9H64.5V62.3H63.5V65H62.5V65.1H61.5V65.3H60.5V65H59.5V64.1H58.5V64.2H57.5V63.9H56.5V63.8H55.5V62.8H54.5V62.8H53.5V62.8H52.5V62.5H51.5V62.4H50.5V63H49.5V63.1H48.5V63H47.5V63.2H46.5V63.4H45.5V63.4H44.5V62.7H43.5V64.9H42.5V64.6H41.5V62.4H40.5V62.4H39.5V62.8H38.5V62.8H37.5V62.8H36.5V64.1H35.5V64.1H34.5V64.1H33.5V64.3H32.5V62.7H31.5V64.3H30.5V62.9H29.5V63H28.5V63.5H27.5V63.1H26.5V62.4H25.5V62.3H24.5V62.3H23.5V62.3H22.5V63.3H21.5V63.3H20.5V63.2H19.5V63.3H18.5V62.8H17.5V62.8H16.5V62.3H15.5V62.3H14.5V62.3H13.5V62.6H12.5V62.6H11.5V62.5H10.5V62.5H9.5V62.5H8.5V62.4H7.5V63.4H6.5V63.4H5.5V62.8H4.5V62.8H3.5V62.6H2.5V62.6H1.5V62.7H0.5V62.7H-0.5V62.7H-1.5Z" fill="#0d72bd"/>
<path d="M95.3 52.2V67.2" stroke="#0d72bd" stroke-width="3" fill="none"/>
<path d="M14.7 0v2M14.7 120.2v-2M68.4 0v2M68.4 120.2v-2M123 0v2M123 120.2v-2M176.8 0v2M176.8 120.2v-2M0 60.1h2M190.3 60.1h-2" stroke="#3c3c3c" stroke-width="1" fill="none"/>
<rect x="0" y="0" width="190.3" height="120.2" fill="none" stroke="#3c3c3c" stroke-width="1.25"/>
<rect x="43" y="12.85" width="134.9" height="19.4" fill="#fff" stroke="#3a3a3a" stroke-width="1.15"/>
<path d="M50 22.6h39.4" stroke="#0d72bd" stroke-width="3.1" fill="none"/>
<text x="93.2" y="26.2" font-size="11.7" fill="#404040">PRN12-PRN17</text>
<text x="14.7" y="136.3" font-size="12.2" text-anchor="middle" fill="#404040">1.97</text>
<text x="68.4" y="136.3" font-size="12.2" text-anchor="middle" fill="#404040">1.972</text>
<text x="123" y="136.3" font-size="12.2" text-anchor="middle" fill="#404040">1.974</text>
<text x="176.8" y="136.3" font-size="12.2" text-anchor="middle" fill="#404040">1.976</text>
<text x="-5.5" y="3.5" font-size="12.2" text-anchor="end" fill="#404040">0.5</text>
<text x="-5.5" y="63.6" font-size="12.2" text-anchor="end" fill="#404040">0</text>
<text x="-5.5" y="123.7" font-size="12.2" text-anchor="end" fill="#404040">-0.5</text>
<text x="95.7" y="155.6" font-size="15" text-anchor="middle" fill="#404040">Time (s)</text>
<text transform="translate(-35.4 124.8) rotate(-90)" font-size="14.67" fill="#404040">Monitoring value (m)</text>
<text x="158.3" y="159" font-size="15" fill="#6a6a6a" style="stroke:none">×</text>
<text x="168.9" y="157.6" font-size="13.1" fill="#404040">10</text>
<text x="183.2" y="152.5" font-size="11" fill="#404040">5</text>
</g>
<g transform="translate(570.9 218.9)">
<path d="M14.7 0V120.2M68.4 0V120.2M123 0V120.2M176.8 0V120.2M0 60.1H190.4" stroke="#dedede" stroke-width="1" fill="none"/>
<path d="M0 37.2H190.4" stroke="#464646" stroke-width="1.6" stroke-dasharray="10 5.53" fill="none"/>
<path d="M0 82H190.4" stroke="#464646" stroke-width="1.6" stroke-dasharray="10 5.53" fill="none"/>
<path d="M0 41.6L18.6 41.6L19.1 41.5L21.1 41.5L21.6 42.3L22.1 41.5L32.7 41.5L33.2 41.3L35.2 41.3L35.7 42.1L36.2 41.3L49.7 41.3L50.2 41.6L59.3 41.6L59.8 42.3L60.3 41.6L75.9 41.6L76.4 41.5L79.9 41.5L80.4 41.3L96.5 41.3L97 41.4L109 41.4L109.5 42.5L110 41.4L120.1 41.4L120.6 41.6L133.1 41.6L133.6 41.5L145.2 41.5L145.7 42.7L146.2 41.6L159.3 41.6L159.8 42.8L160.3 41.6L160.8 41.6L161.3 41.3L169.3 41.3L169.8 42.4L170.3 41.3L174.3 41.3L174.8 41.5L182.4 41.5L182.9 42.2L183.4 41.5L190.4 41.5" stroke="#4cff4c" stroke-width="1.45" fill="none" stroke-linejoin="round"/>
<path d="M0 77.8L6 77.8L6.5 78L21.1 78L21.6 77.2L22.1 78.1L35.2 78.1L35.7 77.3L36.2 78.1L38.2 78.1L38.7 78L56.8 78L57.3 77.9L59.3 77.9L59.8 77.1L60.3 77.9L64.8 77.9L65.3 77.8L76.4 77.8L76.9 78.1L81.9 78.1L82.4 77.9L88.9 77.9L89.4 77.8L104.5 77.8L105 78.2L109 78.2L109.5 77L110 78.2L114 78.2L114.5 77.9L128.6 77.9L129.1 78.2L141.2 78.2L141.7 78.1L145.2 78.1L145.7 76.9L146.2 78.1L153.2 78.1L153.7 77.8L157.7 77.8L158.2 78L159.3 78L159.8 76.9L160.3 78L169.3 78L169.8 76.9L170.3 78L173.3 78L173.8 78.2L182.4 78.2L182.9 77.4L183.4 78.2L188.9 78.2L189.4 77.9L190.4 77.9" stroke="#4cff4c" stroke-width="1.45" fill="none" stroke-linejoin="round"/>
<path d="M-1.5 58.2H-0.5V58.2H0.5V58.1H1.5V57.4H2.5V57.4H3.5V57.5H4.5V57.4H5.5V58.1H6.5V58.1H7.5V57.7H8.5V57.7H9.5V57.4H10.5V57.5H11.5V58.2H12.5V58.1H13.5V58.1H14.5V58H15.5V58.2H16.5V58H17.5V58H18.5V58.2H19.5V58.2H20.5V58.2H21.5V57H22.5V57.1H23.5V57H24.5V58H25.5V58H26.5V58H27.5V58.1H28.5V58.1H29.5V57.5H30.5V57.5H31.5V58.1H32.5V58.1H33.5V58.1H34.5V58.1H35.5V58.1H36.5V57.5H37.5V57.5H38.5V57.5H39.5V58.1H40.5V58H41.5V58H42.5V58H43.5V57.7H44.5V56.9H45.5V58.2H46.5V57.1H47.5V57.1H48.5V58.2H49.5V58.2H50.5V58.2H51.5V58.2H52.5V57.5H53.5V57.5H54.5V57.4H55.5V58H56.5V58H57.5V57.7H58.5V57.7H59.5V57.7H60.5V57.7H61.5V57.7H62.5V58.1H63.5V58.1H64.5V58.1H65.5V58.1H66.5V58.1H67.5V58H68.5V58H69.5V58.1H70.5V58H71.5V58H72.5V58H73.5V57.1H74.5V57.8H75.5V58.1H76.5V58.1H77.5V58.1H78.5V58H79.5V58H80.5V57.3H81.5V57.4H82.5V57.4H83.5V57.4H84.5V57.4H85.5V58.1H86.5V58.2H87.5V58H88.5V58.1H89.5V57.4H90.5V57.4H91.5V57.3H92.5V58H93.5V58H94.5V57.7H95.5V57.9H96.5V57.9H97.5V57.7H98.5V57.9H99.5V57.9H100.5V57.8H101.5V57.7H102.5V57.7H103.5V58H104.5V58H105.5V58H106.5V58H107.5V58.2H108.5V58.1H109.5V58.2H110.5V57.9H111.5V57.9H112.5V58.2H113.5V57.5H114.5V57.4H115.5V58.1H116.5V56.5H117.5V57.4H118.5V57.4H119.5V57.4H120.5V56.9H121.5V57.1H122.5V57.2H123.5V58.2H124.5V58.2H125.5V57.9H126.5V57.9H127.5V58H128.5V58H129.5V58H130.5V58H131.5V57.7H132.5V57.7H133.5V57.7H134.5V57.7H135.5V58H136.5V58H137.5V58H138.5V58H139.5V58H140.5V56.6H141.5V56.7H142.5V58.2H143.5V58.2H144.5V58.1H145.5V58.1H146.5V58H147.5V57.3H148.5V57.4H149.5V57.5H150.5V57.4H151.5V57.4H152.5V58H153.5V58.1H154.5V58.1H155.5V58.1H156.5V58.1H157.5V57.3H158.5V57.7H159.5V57.7H160.5V57.8H161.5V57.8H162.5V58.2H163.5V58.2H164.5V58.2H165.5V58.1H166.5V57.5H167.5V57.5H168.5V58H169.5V58H170.5V58H171.5V58.1H172.5V58.1H173.5V58.1H174.5V58.1H175.5V58H176.5V58H177.5V58H178.5V58.2H179.5V58.2H180.5V58H181.5V58H182.5V57.4H183.5V57.3H184.5V57.4H185.5V58H186.5V58H187.5V58H188.5V58H189.5V57.4H190.5V62H189.5V62.1H188.5V61.4H187.5V61.4H186.5V61.4H185.5V62H184.5V61.9H183.5V62H182.5V61.2H181.5V61.2H180.5V61.3H179.5V61.3H178.5V61.4H177.5V62H176.5V62H175.5V62.1H174.5V62H173.5V61.4H172.5V61.4H171.5V61.4H170.5V61.4H169.5V61.4H168.5V61.8H167.5V61.3H166.5V61.3H165.5V61.2H164.5V61.2H163.5V61.2H162.5V61.2H161.5V61.2H160.5V61.3H159.5V61.3H158.5V61.3H157.5V61.3H156.5V61.3H155.5V61.3H154.5V61.3H153.5V61.4H152.5V62.1H151.5V62.1H150.5V62H149.5V62H148.5V62H147.5V61.3H146.5V61.3H145.5V61.3H144.5V61.2H143.5V61.2H142.5V62.3H141.5V62.5H140.5V61.3H139.5V61.3H138.5V61.4H137.5V61.4H136.5V61.2H135.5V61.7H134.5V61.6H133.5V61.7H132.5V61.7H131.5V61.4H130.5V61.2H129.5V61.2H128.5V61.8H127.5V62H126.5V62H125.5V61.4H124.5V61.3H123.5V61.9H122.5V61.9H121.5V62.1H120.5V61.2H119.5V61.2H118.5V61.2H117.5V61.2H116.5V61.4H115.5V61.4H114.5V61.4H113.5V61.4H112.5V62H111.5V62H110.5V61.3H109.5V61.5H108.5V61.6H107.5V61.5H106.5V61.2H105.5V61.2H104.5V61.3H103.5V61.6H102.5V61.7H101.5V62.3H100.5V61.8H99.5V62.5H98.5V62.4H97.5V62.4H96.5V62.4H95.5V62.3H94.5V61.3H93.5V61.3H92.5V61.6H91.5V61.6H90.5V61.6H89.5V61.3H88.5V61.2H87.5V61.3H86.5V61.3H85.5V62.1H84.5V62.1H83.5V62.1H82.5V62.1H81.5V62H80.5V61.4H79.5V61.3H78.5V61.3H77.5V61.4H76.5V61.4H75.5V62H74.5V62H73.5V61.4H72.5V61.4H71.5V61.4H70.5V62H69.5V61.9H68.5V62H67.5V61.9H66.5V62H65.5V61.3H64.5V61.4H63.5V61.2H62.5V62.3H61.5V62.3H60.5V62.4H59.5V62.4H58.5V62.4H57.5V61.2H56.5V61.2H55.5V61.2H54.5V61.3H53.5V62.1H52.5V61.3H51.5V61.4H50.5V61.4H49.5V61.4H48.5V62.1H47.5V62.1H46.5V61.4H45.5V61.7H44.5V61.7H43.5V61.3H42.5V61.3H41.5V61.3H40.5V61.3H39.5V62.5H38.5V62.4H37.5V62.4H36.5V61.4H35.5V61.4H34.5V61.3H33.5V61.3H32.5V61.3H31.5V61.5H30.5V61.5H29.5V61.3H28.5V61.3H27.5V61.4H26.5V61.4H25.5V61.4H24.5V62H23.5V61.2H22.5V61.2H21.5V61.2H20.5V61.2H19.5V61.2H18.5V61.3H17.5V62.3H16.5V62.5H15.5V62.4H14.5V62.4H13.5V62.5H12.5V61.4H11.5V62.4H10.5V62.9H9.5V61.9H8.5V62.9H7.5V61.3H6.5V61.3H5.5V61.3H4.5V61.4H3.5V61.4H2.5V61.2H1.5V61.2H0.5V61.3H-0.5V61.3H-1.5Z" fill="#0d72bd"/>
<path d="M95.4 104.4V59.7" stroke="#0d72bd" stroke-width="3.3" fill="none"/>
<path d="M14.7 0v2M14.7 120.2v-2M68.4 0v2M68.4 120.2v-2M123 0v2M123 120.2v-2M176.8 0v2M176.8 120.2v-2M0 60.1h2M190.4 60.1h-2" stroke="#3c3c3c" stroke-width="1" fill="none"/>
<rect x="0" y="0" width="190.4" height="120.2" fill="none" stroke="#3c3c3c" stroke-width="1.25"/>
<rect x="43.1" y="12.85" width="134.9" height="19.4" fill="#fff" stroke="#3a3a3a" stroke-width="1.15"/>
<path d="M50.1 22.6h39.4" stroke="#0d72bd" stroke-width="3.1" fill="none"/>
<text x="93.3" y="26.2" font-size="11.7" fill="#404040">PRN13-PRN17</text>
<text x="14.7" y="136.3" font-size="12.2" text-anchor="middle" fill="#404040">1.97</text>
<text x="68.4" y="136.3" font-size="12.2" text-anchor="middle" fill="#404040">1.972</text>
<text x="123" y="136.3" font-size="12.2" text-anchor="middle" fill="#404040">1.974</text>
<text x="176.8" y="136.3" font-size="12.2" text-anchor="middle" fill="#404040">1.976</text>
<text x="-5.5" y="3.5" font-size="12.2" text-anchor="end" fill="#404040">0.5</text>
<text x="-5.5" y="63.6" font-size="12.2" text-anchor="end" fill="#404040">0</text>
<text x="-5.5" y="123.7" font-size="12.2" text-anchor="end" fill="#404040">-0.5</text>
<text x="95.7" y="155.6" font-size="15" text-anchor="middle" fill="#404040">Time (s)</text>
<text transform="translate(-35.4 124.8) rotate(-90)" font-size="14.67" fill="#404040">Monitoring value (m)</text>
<text x="158.3" y="159" font-size="15" fill="#6a6a6a" style="stroke:none">×</text>
<text x="168.9" y="157.6" font-size="13.1" fill="#404040">10</text>
<text x="183.2" y="152.5" font-size="11" fill="#404040">5</text>
</g>
<g transform="translate(828.7 218.9)">
<path d="M14.7 0V120.2M68.4 0V120.2M123 0V120.2M176.8 0V120.2M0 60.1H189.4" stroke="#dedede" stroke-width="1" fill="none"/>
<path d="M0 37.2H189.4" stroke="#464646" stroke-width="1.6" stroke-dasharray="10 5.53" fill="none"/>
<path d="M0 82H189.4" stroke="#464646" stroke-width="1.6" stroke-dasharray="10 5.53" fill="none"/>
<path d="M0 45.3L15.1 45.3L15.6 45L18.1 45L18.6 47.3L19.1 45L24.1 45L24.6 45.3L34.2 45.3L34.7 44.4L35.2 45.3L38.2 45.3L38.7 45L56.3 45L56.8 46.9L57.3 45L67.8 45L68.3 44.9L78.9 44.9L79.4 45L79.9 43.8L80.4 45L103 45L103.5 44.9L107.5 44.9L108 50.2L108.5 46L109 44.9L109.5 45.3L115.5 45.3L116.1 45L119.1 45L119.6 43.9L120.1 45L132.1 45L132.6 45.1L142.7 45.1L143.2 45.2L145.2 45.2L145.7 44L146.2 45.2L153.7 45.2L154.2 45.3L167.3 45.3L167.8 43.9L168.3 45L182.4 45L182.9 46.9L183.4 45L185.9 45L186.4 44.9L189.4 44.9" stroke="#4cff4c" stroke-width="1.45" fill="none" stroke-linejoin="round"/>
<path d="M0 73.7L3.5 73.7L4 73.9L18.1 73.9L18.6 71.6L19.1 73.9L23.1 73.9L23.6 73.8L33.2 73.8L33.7 73.7L34.2 73.7L34.7 74.6L35.2 73.7L38.2 73.7L38.7 73.6L56.3 73.6L56.8 71.7L57.3 73.6L69.8 73.6L70.3 73.7L78.9 73.7L79.4 73.9L79.9 75L80.4 73.9L98 73.9L98.5 74L107.5 74L108 68.7L108.5 72.9L109 74L118.1 74L118.6 73.9L119.1 73.9L119.6 75L120.1 73.9L122.6 73.9L123.1 73.6L133.6 73.6L134.1 73.7L145.2 73.7L145.7 74.9L146.2 73.7L153.2 73.7L153.7 73.9L163.8 73.9L164.3 73.7L167.3 73.7L167.8 74.8L168.3 73.7L181.4 73.7L181.9 73.8L182.4 73.8L182.9 71.9L183.4 73.8L189.4 73.8" stroke="#4cff4c" stroke-width="1.45" fill="none" stroke-linejoin="round"/>
<path d="M-1.5 57H-0.5V54.5H0.5V54.5H1.5V54.7H2.5V54.7H3.5V52.5H4.5V57.2H5.5V57.1H6.5V56.4H7.5V56.4H8.5V56.3H9.5V56.4H10.5V57.1H11.5V57.1H12.5V56.8H13.5V56.1H14.5V56.1H15.5V56.2H16.5V56.2H17.5V56.3H18.5V57.2H19.5V57.2H20.5V57.2H21.5V57.2H22.5V56.7H23.5V56.7H24.5V57.1H25.5V56.4H26.5V56.4H27.5V56H28.5V56.3H29.5V56.3H30.5V57H31.5V55.5H32.5V55.3H33.5V55.3H34.5V56.9H35.5V56.9H36.5V55.7H37.5V55.7H38.5V55.2H39.5V55.1H40.5V55.2H41.5V57.3H42.5V57.3H43.5V56.7H44.5V56.7H45.5V54.2H46.5V54.6H47.5V54.9H48.5V54.9H49.5V54.5H50.5V57.2H51.5V56.9H52.5V56.9H53.5V56.9H54.5V57.2H55.5V57.2H56.5V57.1H57.5V57.1H58.5V57.1H59.5V56.6H60.5V56.6H61.5V56.6H62.5V56.6H63.5V56.5H64.5V56.9H65.5V55.3H66.5V55.6H67.5V55.4H68.5V55.5H69.5V54.4H70.5V54.5H71.5V54.3H72.5V57.2H73.5V57.2H74.5V54.9H75.5V56.9H76.5V56.8H77.5V56.8H78.5V56.8H79.5V57.1H80.5V55.4H81.5V55.6H82.5V56.9H83.5V56.9H84.5V56.2H85.5V56.5H86.5V56.5H87.5V56.4H88.5V57.1H89.5V57.1H90.5V57H91.5V57H92.5V57H93.5V56.8H94.5V56.8H95.5V56.8H96.5V57.2H97.5V55.4H98.5V55.8H99.5V55.6H100.5V55.2H101.5V55.3H102.5V56.8H103.5V56.8H104.5V56.8H105.5V56.8H106.5V56.5H107.5V56.6H108.5V56.5H109.5V56.4H110.5V57.2H111.5V57.2H112.5V56.8H113.5V55.9H114.5V57H115.5V56.2H116.5V56H117.5V56H118.5V57H119.5V57H120.5V57.3H121.5V55.8H122.5V55.6H123.5V55.7H124.5V55.8H125.5V57.3H126.5V57.3H127.5V57.3H128.5V57.3H129.5V57.2H130.5V57.2H131.5V57.2H132.5V56.8H133.5V56.9H134.5V56.9H135.5V57.1H136.5V57.1H137.5V57.3H138.5V57.3H139.5V57.3H140.5V56.9H141.5V56.3H142.5V56.4H143.5V56.2H144.5V56.2H145.5V57.3H146.5V57.3H147.5V57.3H148.5V56.8H149.5V56.8H150.5V56.8H151.5V57H152.5V55.4H153.5V57H154.5V57.2H155.5V54.6H156.5V54.7H157.5V54.7H158.5V54.5H159.5V57.2H160.5V56H161.5V56.2H162.5V56.3H163.5V56.3H164.5V57.1H165.5V56.8H166.5V56.8H167.5V56.8H168.5V56.8H169.5V54.2H170.5V54.3H171.5V54.4H172.5V54.3H173.5V54.6H174.5V57.3H175.5V57.3H176.5V57.3H177.5V57.1H178.5V57.2H179.5V57.2H180.5V57.2H181.5V57.1H182.5V57.1H183.5V54.8H184.5V54.6H185.5V53.4H186.5V54.4H187.5V54.2H188.5V53.2H189.5V64.2H188.5V63.7H187.5V62.5H186.5V62.6H185.5V62.3H184.5V62.3H183.5V62.3H182.5V62.4H181.5V62.5H180.5V62.5H179.5V63.9H178.5V62.4H177.5V62.4H176.5V62.4H175.5V62.4H174.5V63.9H173.5V64.3H172.5V63.8H171.5V63.8H170.5V64.2H169.5V64.9H168.5V65.1H167.5V64.9H166.5V62.2H165.5V62.5H164.5V65H163.5V64.7H162.5V65H161.5V65H160.5V62.1H159.5V63.7H158.5V63.7H157.5V64.1H156.5V64.1H155.5V62.6H154.5V65.3H153.5V65.1H152.5V65.1H151.5V65.3H150.5V62.6H149.5V62.6H148.5V62.3H147.5V62.3H146.5V62.3H145.5V63.3H144.5V63.3H143.5V63.3H142.5V63.2H141.5V62.4H140.5V62.3H139.5V62.3H138.5V62.3H137.5V62.5H136.5V63.2H135.5V63.1H134.5V63.1H133.5V63.4H132.5V63.3H131.5V62.5H130.5V62.5H129.5V62.1H128.5V62.1H127.5V62.1H126.5V62.6H125.5V63.3H124.5V63.3H123.5V62.9H122.5V62.9H121.5V62.1H120.5V62.2H119.5V62.2H118.5V63.2H117.5V63.2H116.5V63.3H115.5V62.6H114.5V62.6H113.5V62.7H112.5V62.4H111.5V62.4H110.5V63.1H109.5V63.1H108.5V63.1H107.5V63.1H106.5V62.5H105.5V62.5H104.5V62.5H103.5V62.4H102.5V63.2H101.5V63.1H100.5V62.9H99.5V62.8H98.5V63.3H97.5V62.6H96.5V62.4H95.5V62.4H94.5V65H93.5V64.6H92.5V64.7H91.5V64.9H90.5V62.3H89.5V62.3H88.5V63H87.5V63H86.5V63H85.5V63.1H84.5V62.3H83.5V62.3H82.5V63H81.5V63H80.5V62.3H79.5V62.7H78.5V63.9H77.5V64H76.5V64H75.5V64.1H74.5V64.2H73.5V62.7H72.5V62.1H71.5V62.1H70.5V62.1H69.5V64H68.5V64.1H67.5V64.1H66.5V64.2H65.5V62.6H64.5V63.2H63.5V63.2H62.5V62.1H61.5V62.1H60.5V62.1H59.5V62.2H58.5V62.2H57.5V62.2H56.5V62.4H55.5V64.5H54.5V62.5H53.5V62.6H52.5V62.6H51.5V62.6H50.5V63.3H49.5V63.1H48.5V63.2H47.5V63.2H46.5V63.2H45.5V62.5H44.5V62.5H43.5V62.4H42.5V62.4H41.5V63.8H40.5V63.8H39.5V63.8H38.5V64.2H37.5V64.1H36.5V62.3H35.5V62.3H34.5V62.3H33.5V62.5H32.5V62.5H31.5V62.6H30.5V64.6H29.5V64.6H28.5V64.8H27.5V65H26.5V65.1H25.5V63.3H24.5V63.2H23.5V64.5H22.5V63.1H21.5V63.1H20.5V62.2H19.5V62.2H18.5V62.2H17.5V62.2H16.5V62.2H15.5V62.5H14.5V62.5H13.5V62.5H12.5V62.3H11.5V62.3H10.5V63H9.5V62.8H8.5V63H7.5V63.1H6.5V62.3H5.5V62.3H4.5V63.1H3.5V63.2H2.5V63.2H1.5V63.3H0.5V63.2H-0.5V62.5H-1.5Z" fill="#0d72bd"/>
<path d="M95.6 28V59.7" stroke="#0d72bd" stroke-width="3.3" fill="none"/>
<path d="M14.7 0v2M14.7 120.2v-2M68.4 0v2M68.4 120.2v-2M123 0v2M123 120.2v-2M176.8 0v2M176.8 120.2v-2M0 60.1h2M189.4 60.1h-2" stroke="#3c3c3c" stroke-width="1" fill="none"/>
<rect x="0" y="0" width="189.4" height="120.2" fill="none" stroke="#3c3c3c" stroke-width="1.25"/>
<rect x="42.1" y="12.85" width="134.9" height="19.4" fill="#fff" stroke="#3a3a3a" stroke-width="1.15"/>
<path d="M49.1 22.6h39.4" stroke="#0d72bd" stroke-width="3.1" fill="none"/>
<text x="92.3" y="26.2" font-size="11.7" fill="#404040">PRN20-PRN17</text>
<text x="14.7" y="136.3" font-size="12.2" text-anchor="middle" fill="#404040">1.97</text>
<text x="68.4" y="136.3" font-size="12.2" text-anchor="middle" fill="#404040">1.972</text>
<text x="123" y="136.3" font-size="12.2" text-anchor="middle" fill="#404040">1.974</text>
<text x="176.8" y="136.3" font-size="12.2" text-anchor="middle" fill="#404040">1.976</text>
<text x="-5.5" y="3.5" font-size="12.2" text-anchor="end" fill="#404040">0.5</text>
<text x="-5.5" y="63.6" font-size="12.2" text-anchor="end" fill="#404040">0</text>
<text x="-5.5" y="123.7" font-size="12.2" text-anchor="end" fill="#404040">-0.5</text>
<text x="95.2" y="155.6" font-size="15" text-anchor="middle" fill="#404040">Time (s)</text>
<text transform="translate(-35.4 124.8) rotate(-90)" font-size="14.67" fill="#404040">Monitoring value (m)</text>
<text x="158.3" y="159" font-size="15" fill="#6a6a6a" style="stroke:none">×</text>
<text x="168.9" y="157.6" font-size="13.1" fill="#404040">10</text>
<text x="183.2" y="152.5" font-size="11" fill="#404040">5</text>
</g>
<g transform="translate(55.5 419.2)">
<path d="M14.7 0V119.2M68.4 0V119.2M123 0V119.2M176.8 0V119.2M0 59.6H190.4" stroke="#dedede" stroke-width="1" fill="none"/>
<path d="M0 37.2H190.4" stroke="#464646" stroke-width="1.6" stroke-dasharray="10 5.53" fill="none"/>
<path d="M0 82H190.4" stroke="#464646" stroke-width="1.6" stroke-dasharray="10 5.53" fill="none"/>
<path d="M0 43.3L10 43.3L10.5 43.5L18.1 43.5L18.6 45.3L19.1 43.5L31.1 43.5L31.6 44.6L32.2 43.5L42.2 43.5L42.7 43.6L56.3 43.6L56.8 44.7L57.3 43.6L73.3 43.6L73.8 45.1L74.4 43.6L76.9 43.6L77.4 43.2L94.4 43.2L94.9 43.4L108 43.4L108.5 45.6L109 43.4L111 43.4L111.5 43.2L121.6 43.2L122.1 43.6L124.1 43.6L124.6 44.7L125.1 43.6L132.1 43.6L132.6 44.7L133.1 43.6L140.2 43.6L140.7 43.3L149.2 43.3L149.7 44.8L150.2 43.5L171.3 43.5L171.8 45L172.3 43.5L185.4 43.5L185.9 43.3L190.4 43.3" stroke="#4cff4c" stroke-width="1.45" fill="none" stroke-linejoin="round"/>
<path d="M0 76L18.1 76L18.6 74.2L19.1 76L31.1 76L31.6 74.9L32.2 76L33.2 76L33.7 75.9L51.2 75.9L51.7 76L56.3 76L56.8 74.9L57.3 76L64.3 76L64.8 75.6L73.3 75.6L73.8 74.1L74.4 75.6L76.9 75.6L77.4 75.9L90.4 75.9L90.9 75.8L100 75.8L100.5 75.6L108 75.6L108.5 73.3L109 75.6L122.1 75.6L122.6 76L124.1 76L124.6 74.9L125.1 76L132.1 76L132.6 74.9L133.1 75.6L138.7 75.6L139.2 75.7L149.2 75.7L149.7 74.2L150.2 75.7L153.7 75.7L154.2 75.9L161.3 75.9L161.8 75.6L171.3 75.6L171.8 74.1L172.3 75.6L173.8 75.6L174.3 76L190.4 76" stroke="#4cff4c" stroke-width="1.45" fill="none" stroke-linejoin="round"/>
<path d="M-1.5 57.6H-0.5V57H0.5V57H1.5V56.9H2.5V57.4H3.5V56.4H4.5V56.5H5.5V55.6H6.5V55.8H7.5V55.5H8.5V57.4H9.5V57.4H10.5V57.4H11.5V57.1H12.5V57H13.5V57H14.5V56.9H15.5V56.9H16.5V57.4H17.5V57.4H18.5V57.5H19.5V57.3H20.5V57.4H21.5V57.4H22.5V57.4H23.5V57.4H24.5V54.9H25.5V55H26.5V55H27.5V54.9H28.5V54.9H29.5V57.5H30.5V55.5H31.5V55.6H32.5V54.5H33.5V55.1H34.5V56.2H35.5V57.6H36.5V57.6H37.5V57.6H38.5V57.3H39.5V56.8H40.5V56.8H41.5V56.9H42.5V56.8H43.5V56.8H44.5V57H45.5V55.9H46.5V56.9H47.5V57.6H48.5V57.6H49.5V57.6H50.5V57.5H51.5V57.5H52.5V57.5H53.5V57.6H54.5V56.7H55.5V57.5H56.5V56.9H57.5V56.8H58.5V57H59.5V57.5H60.5V57.5H61.5V55.9H62.5V55.8H63.5V55.8H64.5V55.5H65.5V57.4H66.5V57.4H67.5V57.5H68.5V57.6H69.5V56.4H70.5V56.5H71.5V57.6H72.5V57.4H73.5V57.6H74.5V55.9H75.5V55.9H76.5V55.8H77.5V55.5H78.5V57.4H79.5V57.5H80.5V57.5H81.5V57.5H82.5V57H83.5V57H84.5V57.1H85.5V57.2H86.5V57.1H87.5V54.7H88.5V54.8H89.5V54.9H90.5V57.6H91.5V57.6H92.5V56.4H93.5V56.4H94.5V56.2H95.5V55.2H96.5V57.3H97.5V57.4H98.5V57.4H99.5V57.4H100.5V57.7H101.5V57.6H102.5V57.6H103.5V57.6H104.5V56.8H105.5V56.9H106.5V57.4H107.5V57.6H108.5V57.3H109.5V56.8H110.5V56.9H111.5V56.9H112.5V57H113.5V57.5H114.5V57.4H115.5V57.3H116.5V56.7H117.5V56.8H118.5V56.8H119.5V57H120.5V57.2H121.5V57.7H122.5V57.7H123.5V57.6H124.5V55.8H125.5V55.9H126.5V57.6H127.5V56.3H128.5V56.3H129.5V56.3H130.5V56.2H131.5V56.3H132.5V57.5H133.5V57.4H134.5V57.4H135.5V57.4H136.5V57.6H137.5V56.5H138.5V56.4H139.5V56.5H140.5V56.4H141.5V57.6H142.5V57.4H143.5V57.5H144.5V57.5H145.5V55.8H146.5V57.5H147.5V57.5H148.5V57.5H149.5V57.5H150.5V57.5H151.5V57.5H152.5V56.4H153.5V56.4H154.5V57.6H155.5V57.6H156.5V57.1H157.5V57.2H158.5V57.2H159.5V56.2H160.5V56.8H161.5V57.4H162.5V55.4H163.5V56.4H164.5V56.3H165.5V56.2H166.5V57.3H167.5V57.3H168.5V55.6H169.5V55.8H170.5V55.9H171.5V56.6H172.5V55.5H173.5V56.5H174.5V56.1H175.5V57.5H176.5V57.5H177.5V57.5H178.5V57.1H179.5V57H180.5V57.1H181.5V57.2H182.5V57.6H183.5V57.6H184.5V57.6H185.5V57.4H186.5V57.4H187.5V57.4H188.5V57.5H189.5V57.5H190.5V61.9H189.5V61.9H188.5V61.7H187.5V61.7H186.5V62.3H185.5V62.6H184.5V62.6H183.5V62H182.5V61.8H181.5V61.8H180.5V61.9H179.5V61.9H178.5V61.7H177.5V61.7H176.5V61.7H175.5V61.9H174.5V61.8H173.5V62H172.5V62H171.5V62H170.5V63.3H169.5V61.8H168.5V61.8H167.5V61.8H166.5V62.3H165.5V62.3H164.5V62.7H163.5V62.6H162.5V61.9H161.5V62.9H160.5V63.2H159.5V63.3H158.5V63.3H157.5V63.2H156.5V62.1H155.5V61.8H154.5V62.9H153.5V62.9H152.5V62.1H151.5V62.1H150.5V62.1H149.5V62.1H148.5V62.1H147.5V62H146.5V62H145.5V62H144.5V62.1H143.5V62H142.5V61.8H141.5V61.8H140.5V61.9H139.5V61.9H138.5V61.9H137.5V61.7H136.5V61.7H135.5V61.7H134.5V61.7H133.5V61.8H132.5V63.6H131.5V63.8H130.5V63.8H129.5V63.9H128.5V63.9H127.5V62H126.5V63.8H125.5V62.6H124.5V62H123.5V62H122.5V62H121.5V62H120.5V61.8H119.5V61.9H118.5V61.9H117.5V62.1H116.5V62.1H115.5V62H114.5V61.9H113.5V61.9H112.5V62.1H111.5V62.1H110.5V62.1H109.5V62.1H108.5V61.9H107.5V62.1H106.5V62.3H105.5V62.3H104.5V61.8H103.5V61.8H102.5V61.8H101.5V63.2H100.5V63.2H99.5V63.2H98.5V63.1H97.5V63H96.5V62.3H95.5V62.3H94.5V62.6H93.5V62.4H92.5V61.9H91.5V61.9H90.5V62.1H89.5V62.8H88.5V61.9H87.5V63.1H86.5V63.1H85.5V62.9H84.5V63.1H83.5V63.1H82.5V61.9H81.5V61.8H80.5V61.9H79.5V61.8H78.5V61.8H77.5V61.8H76.5V61.9H75.5V61.9H74.5V61.9H73.5V61.9H72.5V61.8H71.5V62.4H70.5V62.5H69.5V62H68.5V62H67.5V62.1H66.5V62.1H65.5V63.8H64.5V63.9H63.5V64H62.5V64.8H61.5V62.1H60.5V62.1H59.5V63.2H58.5V63.2H57.5V63.2H56.5V61.9H55.5V61.9H54.5V61.9H53.5V61.9H52.5V61.9H51.5V61.9H50.5V61.8H49.5V61.8H48.5V61.8H47.5V61.7H46.5V61.7H45.5V61.8H44.5V62.1H43.5V62.1H42.5V62.1H41.5V61.9H40.5V61.9H39.5V61.9H38.5V62H37.5V62H36.5V63.9H35.5V64H34.5V62H33.5V62H32.5V64.7H31.5V64.4H30.5V62H29.5V62H28.5V63.1H27.5V62H26.5V61.9H25.5V61.9H24.5V62H23.5V62H22.5V62H21.5V62H20.5V62H19.5V62.3H18.5V62.3H17.5V62.5H16.5V62H15.5V62H14.5V62H13.5V62H12.5V61.8H11.5V61.7H10.5V61.7H9.5V61.7H8.5V63.9H7.5V63.8H6.5V63.7H5.5V62H4.5V62H3.5V62H2.5V63.1H1.5V62.9H0.5V62.9H-0.5V61.8H-1.5Z" fill="#0d72bd"/>
<path d="M41.6 104.3V59.7" stroke="#0d72bd" stroke-width="3.3" fill="none"/>
<path d="M41.9 59.7V78.7" stroke="#0d72bd" stroke-width="4.2" fill="none"/>
<path d="M14.7 0v2M14.7 119.2v-2M68.4 0v2M68.4 119.2v-2M123 0v2M123 119.2v-2M176.8 0v2M176.8 119.2v-2M0 59.6h2M190.4 59.6h-2" stroke="#3c3c3c" stroke-width="1" fill="none"/>
<rect x="0" y="0" width="190.4" height="119.2" fill="none" stroke="#3c3c3c" stroke-width="1.25"/>
<rect x="43.1" y="12.85" width="134.9" height="19.4" fill="#fff" stroke="#3a3a3a" stroke-width="1.15"/>
<path d="M50.1 22.6h39.4" stroke="#0d72bd" stroke-width="3.1" fill="none"/>
<text x="93.3" y="26.2" font-size="11.7" fill="#404040">PRN23-PRN17</text>
<text x="14.7" y="136.3" font-size="12.2" text-anchor="middle" fill="#404040">1.97</text>
<text x="68.4" y="136.3" font-size="12.2" text-anchor="middle" fill="#404040">1.972</text>
<text x="123" y="136.3" font-size="12.2" text-anchor="middle" fill="#404040">1.974</text>
<text x="176.8" y="136.3" font-size="12.2" text-anchor="middle" fill="#404040">1.976</text>
<text x="-5.5" y="3.5" font-size="12.2" text-anchor="end" fill="#404040">0.5</text>
<text x="-5.5" y="63.1" font-size="12.2" text-anchor="end" fill="#404040">0</text>
<text x="-5.5" y="122.7" font-size="12.2" text-anchor="end" fill="#404040">-0.5</text>
<text x="95.7" y="155.6" font-size="15" text-anchor="middle" fill="#404040">Time (s)</text>
<text transform="translate(-35.4 124.8) rotate(-90)" font-size="14.67" fill="#404040">Monitoring value (m)</text>
<text x="158.3" y="159" font-size="15" fill="#6a6a6a" style="stroke:none">×</text>
<text x="168.9" y="157.6" font-size="13.1" fill="#404040">10</text>
<text x="183.2" y="152.5" font-size="11" fill="#404040">5</text>
</g>
</svg>
</body></html>
